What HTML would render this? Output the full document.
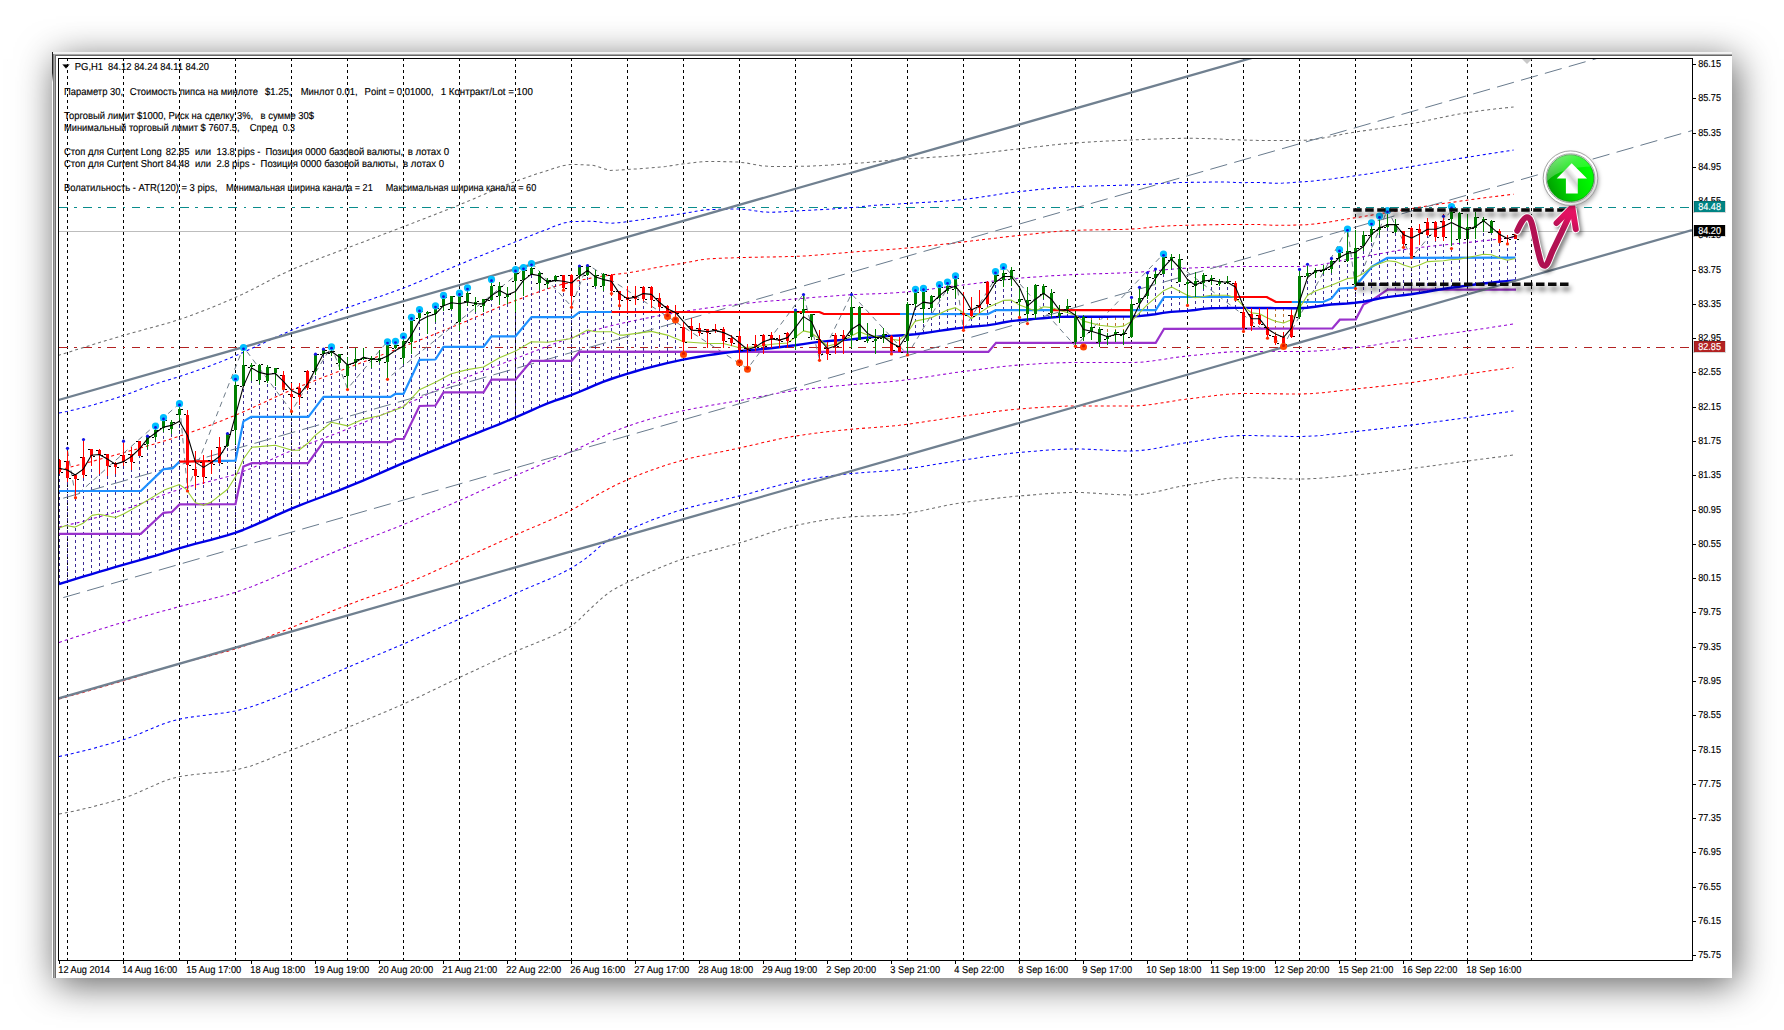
<!DOCTYPE html>
<html><head><meta charset="utf-8"><title>PG,H1</title>
<style>
html,body{margin:0;padding:0;background:#fff;}
body{width:1784px;height:1030px;position:relative;overflow:hidden;font-family:"Liberation Sans",Arial,sans-serif;}
#shadow{position:absolute;left:52px;top:52px;width:1680px;height:926px;background:#fff;box-shadow:4px 6.7px 35.6px 0 rgba(0,0,0,0.632);}
</style></head><body>
<div id="shadow"></div>
<svg width="1784" height="1030" viewBox="0 0 1784 1030" style="position:absolute;left:0;top:0">
<defs>
<clipPath id="plot"><rect x="59" y="59" width="1633" height="901"/></clipPath>
<filter id="sh2" filterUnits="userSpaceOnUse" x="1300" y="180" width="320" height="140"><feGaussianBlur stdDeviation="2.8"/></filter>
<filter id="sh" x="-20%" y="-50%" width="140%" height="220%"><feGaussianBlur stdDeviation="2.2"/></filter>
<linearGradient id="gbtn" x1="0.05" y1="0.85" x2="1" y2="0.45"><stop offset="0" stop-color="#009c00"/><stop offset="0.5" stop-color="#00dc00"/><stop offset="1" stop-color="#00ff00"/></linearGradient>
<linearGradient id="tick" x1="0" y1="0" x2="0" y2="1"><stop offset="0" stop-color="#111" stop-opacity="0.95"/><stop offset="0.7" stop-color="#111" stop-opacity="0.9"/><stop offset="1" stop-color="#111" stop-opacity="0"/></linearGradient>
<linearGradient id="ring" x1="0" y1="0" x2="1" y2="1"><stop offset="0" stop-color="#ffffff"/><stop offset="0.6" stop-color="#ffffff"/><stop offset="1" stop-color="#bdbdbd"/></linearGradient>
<linearGradient id="gloss" x1="0.1" y1="0.1" x2="0.8" y2="0.9"><stop offset="0" stop-color="#ffffff" stop-opacity="0.68"/><stop offset="0.55" stop-color="#ffffff" stop-opacity="0.22"/><stop offset="1" stop-color="#ffffff" stop-opacity="0.04"/></linearGradient>
<linearGradient id="arr" x1="0" y1="0.9" x2="1" y2="0.1"><stop offset="0" stop-color="#fff"/><stop offset="0.36" stop-color="#fff"/><stop offset="0.5" stop-color="#d2d2d2"/><stop offset="0.64" stop-color="#fff"/><stop offset="1" stop-color="#fff"/></linearGradient>
<clipPath id="disc"><circle cx="1570.5" cy="178.2" r="23.3"/></clipPath>
<linearGradient id="sq" gradientUnits="userSpaceOnUse" x1="1545" y1="268" x2="1572" y2="205"><stop offset="0" stop-color="#ae1050"/><stop offset="0.62" stop-color="#b41254"/><stop offset="0.8" stop-color="#e01060"/><stop offset="1" stop-color="#ea1264"/></linearGradient>
</defs>
<rect x="52" y="52" width="1680" height="926" fill="#fff"/>
<g shape-rendering="crispEdges">
<rect x="53" y="53" width="1" height="925" fill="#828282"/>
<rect x="54" y="54" width="1" height="924" fill="#a8a8a8"/>
<rect x="55" y="55" width="1" height="923" fill="#6e6e6e"/>
<rect x="52" y="52" width="1680" height="1" fill="#f4f4f4"/>
<rect x="52" y="52" width="1" height="926" fill="#fafafa"/>
<rect x="53" y="53" width="1679" height="1" fill="#f0f0f0"/>
<rect x="54" y="54" width="1678" height="1" fill="#a5a5a5"/>
<rect x="55" y="55" width="1677" height="1" fill="#686868"/>
<rect x="52" y="52" width="1.2" height="30" fill="url(#tick)"/>
</g>
<g shape-rendering="crispEdges">
<line x1="67.5" y1="58" x2="67.5" y2="960" stroke="#000" stroke-width="1" stroke-dasharray="3 3"/>
<line x1="123.5" y1="58" x2="123.5" y2="960" stroke="#000" stroke-width="1" stroke-dasharray="3 3"/>
<line x1="179.5" y1="58" x2="179.5" y2="960" stroke="#000" stroke-width="1" stroke-dasharray="3 3"/>
<line x1="235.5" y1="58" x2="235.5" y2="960" stroke="#000" stroke-width="1" stroke-dasharray="3 3"/>
<line x1="291.5" y1="58" x2="291.5" y2="960" stroke="#000" stroke-width="1" stroke-dasharray="3 3"/>
<line x1="347.5" y1="58" x2="347.5" y2="960" stroke="#000" stroke-width="1" stroke-dasharray="3 3"/>
<line x1="403.5" y1="58" x2="403.5" y2="960" stroke="#000" stroke-width="1" stroke-dasharray="3 3"/>
<line x1="459.5" y1="58" x2="459.5" y2="960" stroke="#000" stroke-width="1" stroke-dasharray="3 3"/>
<line x1="515.5" y1="58" x2="515.5" y2="960" stroke="#000" stroke-width="1" stroke-dasharray="3 3"/>
<line x1="571.5" y1="58" x2="571.5" y2="960" stroke="#000" stroke-width="1" stroke-dasharray="3 3"/>
<line x1="627.5" y1="58" x2="627.5" y2="960" stroke="#000" stroke-width="1" stroke-dasharray="3 3"/>
<line x1="683.5" y1="58" x2="683.5" y2="960" stroke="#000" stroke-width="1" stroke-dasharray="3 3"/>
<line x1="739.5" y1="58" x2="739.5" y2="960" stroke="#000" stroke-width="1" stroke-dasharray="3 3"/>
<line x1="795.5" y1="58" x2="795.5" y2="960" stroke="#000" stroke-width="1" stroke-dasharray="3 3"/>
<line x1="851.5" y1="58" x2="851.5" y2="960" stroke="#000" stroke-width="1" stroke-dasharray="3 3"/>
<line x1="907.5" y1="58" x2="907.5" y2="960" stroke="#000" stroke-width="1" stroke-dasharray="3 3"/>
<line x1="963.5" y1="58" x2="963.5" y2="960" stroke="#000" stroke-width="1" stroke-dasharray="3 3"/>
<line x1="1019.5" y1="58" x2="1019.5" y2="960" stroke="#000" stroke-width="1" stroke-dasharray="3 3"/>
<line x1="1075.5" y1="58" x2="1075.5" y2="960" stroke="#000" stroke-width="1" stroke-dasharray="3 3"/>
<line x1="1131.5" y1="58" x2="1131.5" y2="960" stroke="#000" stroke-width="1" stroke-dasharray="3 3"/>
<line x1="1187.5" y1="58" x2="1187.5" y2="960" stroke="#000" stroke-width="1" stroke-dasharray="3 3"/>
<line x1="1243.5" y1="58" x2="1243.5" y2="960" stroke="#000" stroke-width="1" stroke-dasharray="3 3"/>
<line x1="1299.5" y1="58" x2="1299.5" y2="960" stroke="#000" stroke-width="1" stroke-dasharray="3 3"/>
<line x1="1355.5" y1="58" x2="1355.5" y2="960" stroke="#000" stroke-width="1" stroke-dasharray="3 3"/>
<line x1="1411.5" y1="58" x2="1411.5" y2="960" stroke="#000" stroke-width="1" stroke-dasharray="3 3"/>
<line x1="1467.5" y1="58" x2="1467.5" y2="960" stroke="#000" stroke-width="1" stroke-dasharray="3 3"/>
<line x1="1531.5" y1="58" x2="1531.5" y2="960" stroke="#000" stroke-width="1" stroke-dasharray="3 3"/>
</g>
<g clip-path="url(#plot)" fill="none" stroke-linejoin="round">
<line x1="59" y1="231.5" x2="1692" y2="231.5" stroke="#bdbdbd" stroke-width="1" shape-rendering="crispEdges"/>
<line x1="59" y1="207.5" x2="1692" y2="207.5" stroke="#0a8c8c" stroke-width="1.3" stroke-dasharray="8.5 6.6 2.9 6.2" shape-rendering="crispEdges"/>
<line x1="59" y1="347.5" x2="1692" y2="347.5" stroke="#b22222" stroke-width="1.3" stroke-dasharray="8.5 6.6 2.9 6.2" shape-rendering="crispEdges"/>
<polyline points="58.0,355.5 66.0,353.0 74.0,350.4 82.0,347.9 90.0,345.5 98.0,343.0 106.0,340.6 114.0,338.2 122.0,335.8 130.0,333.5 138.0,331.3 146.0,329.1 154.0,326.9 162.0,324.7 170.0,322.4 178.0,319.9 186.0,317.2 194.0,314.3 202.0,311.3 210.0,308.2 218.0,304.9 226.0,301.6 234.0,298.1 242.0,294.5 250.0,290.6 258.0,286.5 266.0,282.3 274.0,278.1 282.0,274.1 290.0,270.4 298.0,267.0 306.0,263.7 314.0,260.6 322.0,257.5 330.0,254.5 338.0,251.5 346.0,248.5 354.0,245.4 362.0,242.4 370.0,239.4 378.0,236.4 386.0,233.3 394.0,230.3 402.0,227.2 410.0,224.2 418.0,221.1 426.0,218.0 434.0,214.9 442.0,211.7 450.0,208.6 458.0,205.4 466.0,202.1 474.0,198.7 482.0,195.2 490.0,191.7 498.0,188.3 506.0,185.0 514.0,181.9 522.0,179.0 530.0,176.2 538.0,173.5 546.0,171.1 554.0,168.3 562.0,165.8 570.0,164.5 578.0,164.6 586.0,164.9 594.0,165.4 602.0,168.1 610.0,170.4 618.0,170.1 626.0,169.6 634.0,169.1 642.0,168.6 650.0,168.0 658.0,167.3 666.0,166.4 674.0,165.2 682.0,164.1 690.0,163.1 698.0,162.1 706.0,161.4 714.0,161.4 722.0,161.6 730.0,161.8 738.0,162.1 746.0,162.9 754.0,164.4 762.0,165.9 770.0,166.4 778.0,166.4 786.0,166.4 794.0,166.4 802.0,166.3 810.0,166.1 818.0,165.7 826.0,165.3 834.0,164.8 842.0,164.2 850.0,163.7 858.0,163.2 866.0,162.5 874.0,161.8 882.0,161.1 890.0,160.4 898.0,159.7 906.0,159.0 914.0,158.4 922.0,157.9 930.0,157.4 938.0,156.9 946.0,156.4 954.0,155.8 962.0,155.2 970.0,154.4 978.0,153.5 986.0,152.7 994.0,151.7 1002.0,150.8 1010.0,149.8 1018.0,149.0 1026.0,148.1 1034.0,147.1 1042.0,146.2 1050.0,145.3 1058.0,144.4 1066.0,143.7 1074.0,143.0 1082.0,142.5 1090.0,142.0 1098.0,141.5 1106.0,141.1 1114.0,140.7 1122.0,140.4 1130.0,140.1 1138.0,139.7 1146.0,139.4 1154.0,139.1 1162.0,138.8 1170.0,138.5 1178.0,138.4 1186.0,138.3 1194.0,138.3 1202.0,138.5 1210.0,138.7 1218.0,139.0 1226.0,139.4 1234.0,139.7 1242.0,140.0 1250.0,140.2 1258.0,140.4 1266.0,140.4 1274.0,140.4 1282.0,140.4 1290.0,140.4 1298.0,140.4 1306.0,140.2 1314.0,139.4 1322.0,138.2 1330.0,136.8 1338.0,135.2 1346.0,133.6 1354.0,132.2 1362.0,131.0 1370.0,129.9 1378.0,128.7 1386.0,127.6 1394.0,126.4 1402.0,125.2 1410.0,123.9 1418.0,122.4 1426.0,120.8 1434.0,119.1 1442.0,117.4 1450.0,115.7 1458.0,114.2 1466.0,112.8 1474.0,111.7 1482.0,110.6 1490.0,109.6 1498.0,108.6 1506.0,107.8 1513.6,107.1" stroke="#6e6e6e" stroke-width="1.05" stroke-dasharray="3 3"/>
<polyline points="59.0,814.0 67.0,812.5 75.0,810.9 83.0,809.1 91.0,807.2 99.0,805.1 107.0,803.0 115.0,800.7 123.0,798.3 131.0,795.5 139.0,792.2 147.0,788.6 155.0,785.0 163.0,781.6 171.0,778.7 179.0,776.7 187.0,775.4 195.0,774.4 203.0,773.6 211.0,772.9 219.0,772.2 227.0,771.2 235.0,770.0 243.0,768.2 251.0,765.9 259.0,763.0 267.0,759.9 275.0,756.6 283.0,753.3 291.0,750.2 299.0,747.1 307.0,744.0 315.0,740.8 323.0,737.6 331.0,734.3 339.0,731.0 347.0,727.7 355.0,724.4 363.0,721.1 371.0,717.9 379.0,714.5 387.0,711.2 395.0,707.7 403.0,704.2 411.0,700.6 419.0,696.9 427.0,693.1 435.0,689.2 443.0,685.4 451.0,681.5 459.0,677.7 467.0,674.0 475.0,670.3 483.0,666.5 491.0,662.8 499.0,659.1 507.0,655.4 515.0,651.7 523.0,648.2 531.0,645.0 539.0,641.8 547.0,638.6 555.0,635.0 563.0,631.0 571.0,626.3 579.0,619.8 587.0,611.9 595.0,604.5 603.0,597.2 611.0,591.1 619.0,586.5 627.0,582.6 635.0,578.8 643.0,575.1 651.0,571.5 659.0,568.1 667.0,564.8 675.0,561.7 683.0,558.9 691.0,556.3 699.0,553.9 707.0,551.7 715.0,549.6 723.0,547.6 731.0,545.4 739.0,543.1 747.0,540.7 755.0,538.0 763.0,535.2 771.0,532.5 779.0,529.9 787.0,527.6 795.0,525.6 803.0,524.0 811.0,522.4 819.0,521.0 827.0,519.6 835.0,518.5 843.0,517.5 851.0,516.8 859.0,516.4 867.0,516.1 875.0,515.8 883.0,515.5 891.0,515.1 899.0,514.4 907.0,513.3 915.0,511.9 923.0,510.4 931.0,508.7 939.0,507.0 947.0,505.3 955.0,503.8 963.0,502.6 971.0,501.5 979.0,500.4 987.0,499.4 995.0,498.4 1003.0,497.6 1011.0,496.7 1019.0,496.0 1027.0,495.4 1035.0,494.7 1043.0,494.0 1051.0,493.4 1059.0,493.0 1067.0,492.6 1075.0,492.5 1083.0,492.6 1091.0,493.0 1099.0,493.5 1107.0,494.0 1115.0,494.5 1123.0,494.8 1131.0,495.0 1139.0,494.6 1147.0,493.6 1155.0,492.1 1163.0,490.3 1171.0,488.3 1179.0,486.6 1187.0,485.1 1195.0,483.8 1203.0,482.4 1211.0,480.9 1219.0,479.6 1227.0,478.5 1235.0,477.8 1243.0,477.5 1251.0,477.6 1259.0,477.8 1267.0,478.1 1275.0,478.4 1283.0,478.7 1291.0,478.9 1299.0,479.0 1307.0,478.9 1315.0,478.5 1323.0,478.0 1331.0,477.3 1339.0,476.6 1347.0,475.8 1355.0,475.0 1363.0,474.3 1371.0,473.5 1379.0,472.5 1387.0,471.6 1395.0,470.6 1403.0,469.6 1411.0,468.6 1419.0,467.5 1427.0,466.5 1435.0,465.4 1443.0,464.3 1451.0,463.2 1459.0,462.1 1467.0,461.1 1475.0,460.0 1483.0,459.0 1491.0,457.9 1499.0,456.9 1507.0,455.8 1513.5,455.0" stroke="#6e6e6e" stroke-width="1.05" stroke-dasharray="3 3"/>
<polyline points="59.0,413.0 67.0,411.4 75.0,409.6 83.0,407.6 91.0,405.5 99.0,403.2 107.0,400.8 115.0,398.4 123.0,395.8 131.0,392.9 139.0,389.8 147.0,386.7 155.0,384.0 163.0,381.5 171.0,379.2 179.0,376.7 187.0,374.0 195.0,371.3 203.0,368.5 211.0,365.5 219.0,362.5 227.0,359.3 235.0,355.9 243.0,352.4 251.0,348.8 259.0,345.1 267.0,341.3 275.0,337.6 283.0,334.0 291.0,330.5 299.0,327.1 307.0,323.7 315.0,320.4 323.0,317.2 331.0,314.0 339.0,310.9 347.0,307.8 355.0,304.9 363.0,302.1 371.0,299.4 379.0,296.7 387.0,294.0 395.0,291.2 403.0,288.3 411.0,285.1 419.0,281.8 427.0,278.4 435.0,274.9 443.0,271.5 451.0,268.0 459.0,264.7 467.0,261.4 475.0,258.1 483.0,254.9 491.0,251.7 499.0,248.4 507.0,245.2 515.0,242.0 523.0,238.8 531.0,235.5 539.0,232.4 547.0,229.4 555.0,226.0 563.0,223.1 571.0,221.6 579.0,221.4 587.0,221.3 595.0,221.4 603.0,222.5 611.0,223.3 619.0,222.7 627.0,221.7 635.0,220.6 643.0,219.5 651.0,218.2 659.0,217.1 667.0,215.9 675.0,214.8 683.0,213.6 691.0,212.2 699.0,210.7 707.0,209.7 715.0,209.4 723.0,209.2 731.0,209.1 739.0,209.0 747.0,209.5 755.0,210.8 763.0,211.9 771.0,212.3 779.0,212.0 787.0,211.5 795.0,211.0 803.0,210.6 811.0,210.2 819.0,209.7 827.0,209.3 835.0,208.8 843.0,208.2 851.0,207.6 859.0,206.9 867.0,206.0 875.0,205.3 883.0,204.8 891.0,204.4 899.0,203.9 907.0,203.4 915.0,202.9 923.0,202.5 931.0,202.0 939.0,201.5 947.0,200.9 955.0,200.3 963.0,199.5 971.0,198.5 979.0,197.4 987.0,196.2 995.0,195.0 1003.0,193.7 1011.0,192.6 1019.0,191.6 1027.0,190.8 1035.0,189.9 1043.0,189.1 1051.0,188.3 1059.0,187.6 1067.0,187.1 1075.0,186.6 1083.0,186.3 1091.0,186.0 1099.0,185.8 1107.0,185.6 1115.0,185.4 1123.0,185.2 1131.0,184.9 1139.0,184.6 1147.0,184.2 1155.0,183.8 1163.0,183.3 1171.0,182.9 1179.0,182.6 1187.0,182.4 1195.0,182.3 1203.0,182.2 1211.0,182.1 1219.0,182.0 1227.0,182.1 1235.0,182.4 1243.0,182.7 1251.0,182.5 1259.0,182.4 1267.0,182.9 1275.0,183.3 1283.0,183.1 1291.0,182.7 1299.0,182.1 1307.0,181.5 1315.0,180.8 1323.0,179.9 1331.0,179.0 1339.0,177.9 1347.0,176.9 1355.0,175.8 1363.0,174.6 1371.0,173.4 1379.0,172.1 1387.0,170.7 1395.0,169.3 1403.0,167.9 1411.0,166.6 1419.0,165.3 1427.0,163.9 1435.0,162.6 1443.0,161.2 1451.0,159.9 1459.0,158.6 1467.0,157.3 1475.0,156.0 1483.0,154.8 1491.0,153.5 1499.0,152.3 1507.0,151.1 1513.6,150.1" stroke="#0000ff" stroke-width="1.05" stroke-dasharray="3 3"/>
<polyline points="59.0,756.5 67.0,754.8 75.0,753.0 83.0,751.0 91.0,749.0 99.0,746.8 107.0,744.6 115.0,742.3 123.0,739.8 131.0,737.1 139.0,734.0 147.0,730.6 155.0,727.2 163.0,724.1 171.0,721.3 179.0,719.2 187.0,717.7 195.0,716.5 203.0,715.5 211.0,714.6 219.0,713.6 227.0,712.4 235.0,711.0 243.0,709.1 251.0,706.8 259.0,704.1 267.0,701.1 275.0,698.0 283.0,694.8 291.0,691.7 299.0,688.5 307.0,685.2 315.0,681.8 323.0,678.2 331.0,674.7 339.0,671.2 347.0,667.7 355.0,664.3 363.0,661.0 371.0,657.7 379.0,654.3 387.0,651.0 395.0,647.6 403.0,644.2 411.0,640.7 419.0,637.2 427.0,633.6 435.0,630.0 443.0,626.4 451.0,622.8 459.0,619.2 467.0,615.6 475.0,611.9 483.0,608.3 491.0,604.6 499.0,601.0 507.0,597.3 515.0,593.7 523.0,590.1 531.0,586.7 539.0,583.4 547.0,580.0 555.0,576.4 563.0,572.5 571.0,568.3 579.0,563.3 587.0,557.6 595.0,550.8 603.0,543.8 611.0,538.4 619.0,534.2 627.0,530.5 635.0,527.0 643.0,523.7 651.0,520.4 659.0,517.4 667.0,514.5 675.0,511.8 683.0,509.3 691.0,507.1 699.0,505.1 707.0,503.3 715.0,501.5 723.0,499.8 731.0,498.0 739.0,496.1 747.0,494.1 755.0,491.9 763.0,489.6 771.0,487.4 779.0,485.2 787.0,483.3 795.0,481.6 803.0,480.2 811.0,478.8 819.0,477.6 827.0,476.4 835.0,475.3 843.0,474.4 851.0,473.6 859.0,472.9 867.0,472.3 875.0,471.8 883.0,471.3 891.0,470.6 899.0,469.8 907.0,468.8 915.0,467.6 923.0,466.4 931.0,465.1 939.0,463.8 947.0,462.5 955.0,461.2 963.0,460.1 971.0,458.9 979.0,457.7 987.0,456.5 995.0,455.4 1003.0,454.3 1011.0,453.3 1019.0,452.5 1027.0,451.8 1035.0,451.2 1043.0,450.5 1051.0,449.9 1059.0,449.4 1067.0,449.1 1075.0,449.0 1083.0,449.1 1091.0,449.4 1099.0,449.8 1107.0,450.2 1115.0,450.6 1123.0,450.9 1131.0,451.0 1139.0,450.7 1147.0,449.8 1155.0,448.6 1163.0,447.0 1171.0,445.4 1179.0,443.9 1187.0,442.6 1195.0,441.4 1203.0,440.1 1211.0,438.8 1219.0,437.5 1227.0,436.5 1235.0,435.8 1243.0,435.5 1251.0,435.5 1259.0,435.7 1267.0,435.9 1275.0,436.1 1283.0,436.3 1291.0,436.4 1299.0,436.5 1307.0,436.3 1315.0,435.9 1323.0,435.2 1331.0,434.3 1339.0,433.4 1347.0,432.4 1355.0,431.6 1363.0,430.7 1371.0,429.8 1379.0,428.9 1387.0,428.0 1395.0,427.0 1403.0,426.1 1411.0,425.1 1419.0,424.1 1427.0,423.0 1435.0,421.9 1443.0,420.9 1451.0,419.8 1459.0,418.7 1467.0,417.6 1475.0,416.5 1483.0,415.3 1491.0,414.2 1499.0,413.1 1507.0,411.9 1513.5,411.0" stroke="#0000ff" stroke-width="1.05" stroke-dasharray="3 3"/>
<polyline points="59.0,470.0 67.0,468.0 75.0,465.9 83.0,463.8 91.0,461.7 99.0,459.5 107.0,457.3 115.0,455.1 123.0,452.9 131.0,450.6 139.0,448.4 147.0,446.1 155.0,443.8 163.0,441.4 171.0,438.9 179.0,436.3 187.0,433.6 195.0,430.8 203.0,427.9 211.0,424.9 219.0,421.8 227.0,418.6 235.0,415.4 243.0,412.0 251.0,408.4 259.0,404.7 267.0,401.0 275.0,397.3 283.0,393.7 291.0,390.2 299.0,386.9 307.0,383.7 315.0,380.5 323.0,377.4 331.0,374.4 339.0,371.3 347.0,368.2 355.0,365.1 363.0,362.1 371.0,359.0 379.0,356.0 387.0,352.9 395.0,349.8 403.0,346.7 411.0,343.6 419.0,340.4 427.0,337.2 435.0,334.0 443.0,330.7 451.0,327.5 459.0,324.2 467.0,320.9 475.0,317.4 483.0,314.0 491.0,310.5 499.0,307.1 507.0,303.8 515.0,300.7 523.0,297.7 531.0,294.6 539.0,291.7 547.0,288.9 555.0,286.4 563.0,284.1 571.0,282.2 579.0,280.5 587.0,278.9 595.0,277.4 603.0,276.1 611.0,274.9 619.0,273.9 627.0,272.9 635.0,271.7 643.0,270.1 651.0,268.6 659.0,267.1 667.0,265.8 675.0,264.5 683.0,263.2 691.0,261.7 699.0,260.1 707.0,259.0 715.0,258.5 723.0,258.1 731.0,257.9 739.0,257.6 747.0,257.4 755.0,257.2 763.0,257.1 771.0,257.0 779.0,256.8 787.0,256.6 795.0,256.4 803.0,256.1 811.0,255.6 819.0,255.0 827.0,254.3 835.0,253.6 843.0,252.9 851.0,252.2 859.0,251.6 867.0,251.1 875.0,250.5 883.0,249.9 891.0,249.3 899.0,248.7 907.0,248.0 915.0,247.3 923.0,246.5 931.0,245.6 939.0,244.7 947.0,243.8 955.0,242.9 963.0,242.0 971.0,241.1 979.0,240.1 987.0,239.1 995.0,238.2 1003.0,237.2 1011.0,236.3 1019.0,235.4 1027.0,234.6 1035.0,233.7 1043.0,232.8 1051.0,232.0 1059.0,231.3 1067.0,230.7 1075.0,230.3 1083.0,230.1 1091.0,229.9 1099.0,229.8 1107.0,229.7 1115.0,229.5 1123.0,229.4 1131.0,229.1 1139.0,228.6 1147.0,227.6 1155.0,226.8 1163.0,226.2 1171.0,225.8 1179.0,225.5 1187.0,225.3 1195.0,225.1 1203.0,224.9 1211.0,224.8 1219.0,224.6 1227.0,224.5 1235.0,224.4 1243.0,224.4 1251.0,224.4 1259.0,224.5 1267.0,225.0 1275.0,225.3 1283.0,225.3 1291.0,225.2 1299.0,225.0 1307.0,224.7 1315.0,223.9 1323.0,222.9 1331.0,221.7 1339.0,220.4 1347.0,219.0 1355.0,217.8 1363.0,216.6 1371.0,215.3 1379.0,213.9 1387.0,212.6 1395.0,211.2 1403.0,209.9 1411.0,208.6 1419.0,207.3 1427.0,206.1 1435.0,204.9 1443.0,203.6 1451.0,202.5 1459.0,201.3 1467.0,200.2 1475.0,199.1 1483.0,198.0 1491.0,197.0 1499.0,196.0 1507.0,195.0 1513.6,194.2" stroke="#ff0000" stroke-width="1.05" stroke-dasharray="3 3"/>
<polyline points="59.0,699.0 67.0,696.8 75.0,694.6 83.0,692.4 91.0,690.1 99.0,687.8 107.0,685.5 115.0,683.2 123.0,680.9 131.0,678.5 139.0,676.0 147.0,673.5 155.0,671.0 163.0,668.5 171.0,666.1 179.0,663.8 187.0,661.6 195.0,659.5 203.0,657.6 211.0,655.6 219.0,653.5 227.0,651.4 235.0,649.0 243.0,646.4 251.0,643.5 259.0,640.5 267.0,637.3 275.0,634.1 283.0,630.9 291.0,627.7 299.0,624.5 307.0,621.3 315.0,618.0 323.0,614.8 331.0,611.5 339.0,608.3 347.0,605.2 355.0,602.2 363.0,599.3 371.0,596.5 379.0,593.6 387.0,590.8 395.0,587.8 403.0,584.8 411.0,581.5 419.0,578.1 427.0,574.7 435.0,571.1 443.0,567.5 451.0,563.9 459.0,560.4 467.0,556.8 475.0,553.2 483.0,549.6 491.0,546.0 499.0,542.4 507.0,538.8 515.0,535.2 523.0,531.7 531.0,528.2 539.0,524.9 547.0,521.4 555.0,517.9 563.0,514.2 571.0,510.3 579.0,505.8 587.0,501.0 595.0,496.2 603.0,491.8 611.0,487.5 619.0,483.5 627.0,479.8 635.0,476.5 643.0,473.3 651.0,470.3 659.0,467.5 667.0,464.8 675.0,462.4 683.0,460.1 691.0,458.1 699.0,456.3 707.0,454.6 715.0,452.9 723.0,451.4 731.0,449.8 739.0,448.1 747.0,446.3 755.0,444.5 763.0,442.6 771.0,440.8 779.0,439.1 787.0,437.5 795.0,436.1 803.0,434.9 811.0,433.8 819.0,432.7 827.0,431.8 835.0,430.9 843.0,430.0 851.0,429.3 859.0,428.6 867.0,428.0 875.0,427.4 883.0,426.8 891.0,426.1 899.0,425.3 907.0,424.3 915.0,423.2 923.0,422.0 931.0,420.8 939.0,419.6 947.0,418.3 955.0,417.2 963.0,416.1 971.0,415.0 979.0,413.9 987.0,412.7 995.0,411.6 1003.0,410.6 1011.0,409.7 1019.0,409.0 1027.0,408.4 1035.0,407.8 1043.0,407.3 1051.0,406.8 1059.0,406.4 1067.0,406.1 1075.0,406.0 1083.0,406.0 1091.0,406.0 1099.0,406.0 1107.0,406.0 1115.0,406.0 1123.0,406.0 1131.0,406.0 1139.0,405.8 1147.0,405.0 1155.0,404.0 1163.0,402.7 1171.0,401.4 1179.0,400.1 1187.0,399.1 1195.0,398.1 1203.0,397.1 1211.0,396.0 1219.0,395.1 1227.0,394.3 1235.0,393.7 1243.0,393.5 1251.0,393.5 1259.0,393.6 1267.0,393.7 1275.0,393.8 1283.0,393.9 1291.0,394.0 1299.0,394.0 1307.0,393.8 1315.0,393.4 1323.0,392.7 1331.0,391.8 1339.0,390.9 1347.0,389.9 1355.0,389.1 1363.0,388.2 1371.0,387.4 1379.0,386.5 1387.0,385.6 1395.0,384.6 1403.0,383.6 1411.0,382.6 1419.0,381.5 1427.0,380.3 1435.0,379.1 1443.0,377.8 1451.0,376.5 1459.0,375.3 1467.0,374.1 1475.0,372.9 1483.0,371.8 1491.0,370.6 1499.0,369.5 1507.0,368.4 1513.5,367.5" stroke="#ff0000" stroke-width="1.05" stroke-dasharray="3 3"/>
<polyline points="59.0,527.0 67.0,525.2 75.0,523.3 83.0,521.3 91.0,519.1 99.0,516.9 107.0,514.6 115.0,512.3 123.0,509.8 131.0,507.2 139.0,504.3 147.0,501.2 155.0,498.1 163.0,495.0 171.0,492.1 179.0,489.5 187.0,487.1 195.0,485.0 203.0,483.0 211.0,481.0 219.0,479.0 227.0,476.8 235.0,474.4 243.0,471.5 251.0,468.4 259.0,464.9 267.0,461.4 275.0,457.8 283.0,454.2 291.0,450.8 299.0,447.7 307.0,444.6 315.0,441.5 323.0,438.5 331.0,435.4 339.0,432.4 347.0,429.2 355.0,426.0 363.0,422.7 371.0,419.4 379.0,416.0 387.0,412.6 395.0,409.2 403.0,405.7 411.0,402.1 419.0,398.4 427.0,394.6 435.0,390.8 443.0,387.2 451.0,383.8 459.0,380.5 467.0,377.3 475.0,374.1 483.0,371.0 491.0,368.0 499.0,364.9 507.0,361.8 515.0,358.8 523.0,355.7 531.0,352.6 539.0,349.5 547.0,346.4 555.0,343.4 563.0,340.5 571.0,337.8 579.0,335.2 587.0,332.6 595.0,330.1 603.0,327.8 611.0,325.8 619.0,323.9 627.0,322.1 635.0,320.4 643.0,318.8 651.0,317.2 659.0,315.7 667.0,314.3 675.0,313.0 683.0,311.7 691.0,310.4 699.0,309.2 707.0,308.1 715.0,307.0 723.0,305.9 731.0,305.0 739.0,304.1 747.0,303.2 755.0,302.4 763.0,301.7 771.0,301.0 779.0,300.4 787.0,299.7 795.0,299.0 803.0,298.4 811.0,297.7 819.0,297.0 827.0,296.4 835.0,295.8 843.0,295.2 851.0,294.7 859.0,294.4 867.0,294.0 875.0,293.8 883.0,293.5 891.0,293.1 899.0,292.5 907.0,291.8 915.0,291.0 923.0,290.1 931.0,289.1 939.0,288.0 947.0,287.0 955.0,285.9 963.0,285.0 971.0,284.0 979.0,283.0 987.0,281.9 995.0,280.9 1003.0,279.9 1011.0,279.0 1019.0,278.2 1027.0,277.6 1035.0,277.0 1043.0,276.4 1051.0,275.8 1059.0,275.4 1067.0,274.9 1075.0,274.5 1083.0,274.2 1091.0,273.9 1099.0,273.7 1107.0,273.5 1115.0,273.2 1123.0,273.0 1131.0,272.6 1139.0,272.1 1147.0,271.5 1155.0,270.8 1163.0,270.0 1171.0,269.2 1179.0,268.6 1187.0,268.1 1195.0,267.8 1203.0,267.5 1211.0,267.2 1219.0,266.9 1227.0,266.7 1235.0,266.6 1243.0,266.5 1251.0,266.5 1259.0,266.5 1267.0,266.5 1275.0,266.5 1283.0,266.5 1291.0,266.5 1299.0,266.5 1307.0,266.2 1315.0,265.4 1323.0,264.2 1331.0,262.7 1339.0,261.1 1347.0,259.5 1355.0,258.1 1363.0,256.7 1371.0,255.3 1379.0,253.9 1387.0,252.4 1395.0,251.0 1403.0,249.7 1411.0,248.6 1419.0,247.6 1427.0,246.6 1435.0,245.8 1443.0,245.0 1451.0,244.2 1459.0,243.4 1467.0,242.6 1475.0,241.7 1483.0,240.8 1491.0,240.0 1499.0,239.1 1507.0,238.2 1513.5,237.5" stroke="#9400d3" stroke-width="1.05" stroke-dasharray="3 3"/>
<polyline points="59.0,642.5 67.0,639.8 75.0,637.2 83.0,634.7 91.0,632.1 99.0,629.6 107.0,627.2 115.0,624.7 123.0,622.4 131.0,620.0 139.0,617.7 147.0,615.5 155.0,613.3 163.0,611.1 171.0,608.9 179.0,606.8 187.0,604.7 195.0,602.8 203.0,600.9 211.0,599.0 219.0,597.0 227.0,594.9 235.0,592.5 243.0,589.8 251.0,586.9 259.0,583.7 267.0,580.4 275.0,577.0 283.0,573.5 291.0,570.2 299.0,566.9 307.0,563.5 315.0,560.1 323.0,556.7 331.0,553.4 339.0,550.0 347.0,546.7 355.0,543.5 363.0,540.3 371.0,537.2 379.0,534.2 387.0,531.0 395.0,527.9 403.0,524.7 411.0,521.4 419.0,518.0 427.0,514.6 435.0,511.1 443.0,507.7 451.0,504.2 459.0,500.7 467.0,497.2 475.0,493.6 483.0,490.0 491.0,486.4 499.0,482.9 507.0,479.3 515.0,475.8 523.0,472.3 531.0,468.9 539.0,465.5 547.0,462.1 555.0,458.7 563.0,455.2 571.0,451.7 579.0,448.1 587.0,444.3 595.0,440.4 603.0,436.5 611.0,432.8 619.0,429.4 627.0,426.4 635.0,423.7 643.0,421.2 651.0,418.8 659.0,416.6 667.0,414.6 675.0,412.6 683.0,410.8 691.0,409.1 699.0,407.6 707.0,406.1 715.0,404.7 723.0,403.4 731.0,402.0 739.0,400.6 747.0,399.1 755.0,397.6 763.0,396.0 771.0,394.5 779.0,393.1 787.0,391.7 795.0,390.6 803.0,389.6 811.0,388.6 819.0,387.7 827.0,386.9 835.0,386.1 843.0,385.4 851.0,384.7 859.0,384.0 867.0,383.4 875.0,382.9 883.0,382.3 891.0,381.6 899.0,380.8 907.0,379.8 915.0,378.7 923.0,377.5 931.0,376.3 939.0,375.0 947.0,373.8 955.0,372.6 963.0,371.6 971.0,370.5 979.0,369.5 987.0,368.4 995.0,367.4 1003.0,366.5 1011.0,365.7 1019.0,365.0 1027.0,364.5 1035.0,364.0 1043.0,363.5 1051.0,363.1 1059.0,362.8 1067.0,362.6 1075.0,362.5 1083.0,362.5 1091.0,362.5 1099.0,362.5 1107.0,362.5 1115.0,362.5 1123.0,362.5 1131.0,362.5 1139.0,362.3 1147.0,361.6 1155.0,360.6 1163.0,359.4 1171.0,358.1 1179.0,357.0 1187.0,356.0 1195.0,355.2 1203.0,354.4 1211.0,353.5 1219.0,352.8 1227.0,352.1 1235.0,351.7 1243.0,351.5 1251.0,351.5 1259.0,351.5 1267.0,351.5 1275.0,351.5 1283.0,351.5 1291.0,351.5 1299.0,351.5 1307.0,351.4 1315.0,351.1 1323.0,350.5 1331.0,349.9 1339.0,349.1 1347.0,348.3 1355.0,347.5 1363.0,346.7 1371.0,345.6 1379.0,344.3 1387.0,343.0 1395.0,341.7 1403.0,340.3 1411.0,339.1 1419.0,337.9 1427.0,336.8 1435.0,335.6 1443.0,334.5 1451.0,333.4 1459.0,332.2 1467.0,331.1 1475.0,329.9 1483.0,328.7 1491.0,327.5 1499.0,326.2 1507.0,325.0 1513.5,324.0" stroke="#9400d3" stroke-width="1.05" stroke-dasharray="3 3"/>
<g stroke-width="1" stroke-dasharray="3 3" stroke-opacity="0.92" shape-rendering="crispEdges"><line x1="59.5" y1="583.8" x2="59.5" y2="468.3" stroke="#2b1a8a"/><line x1="67.5" y1="581.4" x2="67.5" y2="470.1" stroke="#2b1a8a"/><line x1="75.5" y1="579.0" x2="75.5" y2="474.8" stroke="#2b1a8a"/><line x1="83.5" y1="576.6" x2="83.5" y2="468.8" stroke="#2b1a8a"/><line x1="91.5" y1="574.2" x2="91.5" y2="455.3" stroke="#2b1a8a"/><line x1="99.5" y1="571.8" x2="99.5" y2="454.6" stroke="#2b1a8a"/><line x1="107.5" y1="569.4" x2="107.5" y2="459.1" stroke="#2b1a8a"/><line x1="115.5" y1="567.1" x2="115.5" y2="464.0" stroke="#2b1a8a"/><line x1="123.5" y1="564.7" x2="123.5" y2="461.5" stroke="#2b1a8a"/><line x1="131.5" y1="562.4" x2="131.5" y2="456.4" stroke="#2b1a8a"/><line x1="139.5" y1="560.2" x2="139.5" y2="448.9" stroke="#2b1a8a"/><line x1="147.5" y1="557.9" x2="147.5" y2="438.9" stroke="#2b1a8a"/><line x1="155.5" y1="555.6" x2="155.5" y2="432.9" stroke="#2b1a8a"/><line x1="163.5" y1="553.2" x2="163.5" y2="427.1" stroke="#2b1a8a"/><line x1="171.5" y1="550.7" x2="171.5" y2="425.4" stroke="#2b1a8a"/><line x1="179.5" y1="548.2" x2="179.5" y2="421.2" stroke="#2b1a8a"/><line x1="187.5" y1="545.9" x2="187.5" y2="435.4" stroke="#2b1a8a"/><line x1="195.5" y1="543.8" x2="195.5" y2="462.4" stroke="#2b1a8a"/><line x1="203.5" y1="541.7" x2="203.5" y2="467.4" stroke="#2b1a8a"/><line x1="211.5" y1="539.7" x2="211.5" y2="462.3" stroke="#2b1a8a"/><line x1="219.5" y1="537.5" x2="219.5" y2="456.5" stroke="#2b1a8a"/><line x1="227.5" y1="535.2" x2="227.5" y2="444.0" stroke="#2b1a8a"/><line x1="235.5" y1="532.7" x2="235.5" y2="415.5" stroke="#2b1a8a"/><line x1="243.5" y1="529.8" x2="243.5" y2="386.3" stroke="#2b1a8a"/><line x1="251.5" y1="526.5" x2="251.5" y2="367.9" stroke="#2b1a8a"/><line x1="259.5" y1="523.0" x2="259.5" y2="372.4" stroke="#2b1a8a"/><line x1="267.5" y1="519.3" x2="267.5" y2="374.4" stroke="#2b1a8a"/><line x1="275.5" y1="515.6" x2="275.5" y2="373.6" stroke="#2b1a8a"/><line x1="283.5" y1="512.0" x2="283.5" y2="381.5" stroke="#2b1a8a"/><line x1="291.5" y1="508.6" x2="291.5" y2="390.4" stroke="#2b1a8a"/><line x1="299.5" y1="505.4" x2="299.5" y2="394.5" stroke="#2b1a8a"/><line x1="307.5" y1="502.3" x2="307.5" y2="384.2" stroke="#2b1a8a"/><line x1="315.5" y1="499.3" x2="315.5" y2="369.0" stroke="#2b1a8a"/><line x1="323.5" y1="496.3" x2="323.5" y2="353.8" stroke="#2b1a8a"/><line x1="331.5" y1="493.3" x2="331.5" y2="351.5" stroke="#2b1a8a"/><line x1="339.5" y1="490.2" x2="339.5" y2="357.2" stroke="#2b1a8a"/><line x1="347.5" y1="487.0" x2="347.5" y2="365.0" stroke="#2b1a8a"/><line x1="355.5" y1="483.7" x2="355.5" y2="362.2" stroke="#2b1a8a"/><line x1="363.5" y1="480.3" x2="363.5" y2="357.2" stroke="#2b1a8a"/><line x1="371.5" y1="476.9" x2="371.5" y2="359.2" stroke="#2b1a8a"/><line x1="379.5" y1="473.4" x2="379.5" y2="359.4" stroke="#2b1a8a"/><line x1="387.5" y1="469.9" x2="387.5" y2="356.0" stroke="#2b1a8a"/><line x1="395.5" y1="466.4" x2="395.5" y2="350.4" stroke="#2b1a8a"/><line x1="403.5" y1="463.0" x2="403.5" y2="345.9" stroke="#2b1a8a"/><line x1="411.5" y1="459.7" x2="411.5" y2="334.9" stroke="#2b1a8a"/><line x1="419.5" y1="456.3" x2="419.5" y2="320.8" stroke="#2b1a8a"/><line x1="427.5" y1="453.0" x2="427.5" y2="316.6" stroke="#2b1a8a"/><line x1="435.5" y1="449.8" x2="435.5" y2="314.0" stroke="#2b1a8a"/><line x1="443.5" y1="446.5" x2="443.5" y2="305.7" stroke="#2b1a8a"/><line x1="451.5" y1="443.3" x2="451.5" y2="302.8" stroke="#2b1a8a"/><line x1="459.5" y1="440.0" x2="459.5" y2="303.6" stroke="#2b1a8a"/><line x1="467.5" y1="436.8" x2="467.5" y2="302.0" stroke="#2b1a8a"/><line x1="475.5" y1="433.6" x2="475.5" y2="303.5" stroke="#2b1a8a"/><line x1="483.5" y1="430.4" x2="483.5" y2="304.0" stroke="#2b1a8a"/><line x1="491.5" y1="427.3" x2="491.5" y2="295.5" stroke="#2b1a8a"/><line x1="499.5" y1="424.1" x2="499.5" y2="290.5" stroke="#2b1a8a"/><line x1="507.5" y1="420.8" x2="507.5" y2="294.7" stroke="#2b1a8a"/><line x1="515.5" y1="417.5" x2="515.5" y2="291.3" stroke="#2b1a8a"/><line x1="523.5" y1="414.0" x2="523.5" y2="280.5" stroke="#2b1a8a"/><line x1="531.5" y1="410.4" x2="531.5" y2="274.1" stroke="#2b1a8a"/><line x1="539.5" y1="406.8" x2="539.5" y2="275.7" stroke="#2b1a8a"/><line x1="547.5" y1="403.4" x2="547.5" y2="282.1" stroke="#2b1a8a"/><line x1="555.5" y1="400.5" x2="555.5" y2="280.4" stroke="#2b1a8a"/><line x1="563.5" y1="397.8" x2="563.5" y2="281.3" stroke="#2b1a8a"/><line x1="571.5" y1="395.0" x2="571.5" y2="282.9" stroke="#2b1a8a"/><line x1="579.5" y1="391.8" x2="579.5" y2="276.3" stroke="#2b1a8a"/><line x1="587.5" y1="388.4" x2="587.5" y2="270.4" stroke="#2b1a8a"/><line x1="595.5" y1="385.0" x2="595.5" y2="276.9" stroke="#2b1a8a"/><line x1="603.5" y1="381.7" x2="603.5" y2="279.6" stroke="#2b1a8a"/><line x1="611.5" y1="378.8" x2="611.5" y2="281.5" stroke="#2b1a8a"/><line x1="619.5" y1="376.2" x2="619.5" y2="293.2" stroke="#2b1a8a"/><line x1="627.5" y1="373.7" x2="627.5" y2="298.6" stroke="#2b1a8a"/><line x1="635.5" y1="371.4" x2="635.5" y2="297.1" stroke="#2b1a8a"/><line x1="643.5" y1="369.1" x2="643.5" y2="293.6" stroke="#2b1a8a"/><line x1="651.5" y1="367.0" x2="651.5" y2="294.5" stroke="#2b1a8a"/><line x1="659.5" y1="365.0" x2="659.5" y2="302.5" stroke="#2b1a8a"/><line x1="667.5" y1="363.0" x2="667.5" y2="308.8" stroke="#2b1a8a"/><line x1="675.5" y1="361.2" x2="675.5" y2="312.5" stroke="#2b1a8a"/><line x1="915.5" y1="334.1" x2="915.5" y2="307.4" stroke="#2b1a8a"/><line x1="923.5" y1="333.1" x2="923.5" y2="302.1" stroke="#2b1a8a"/><line x1="931.5" y1="332.0" x2="931.5" y2="303.3" stroke="#2b1a8a"/><line x1="939.5" y1="330.9" x2="939.5" y2="295.7" stroke="#2b1a8a"/><line x1="947.5" y1="329.7" x2="947.5" y2="289.1" stroke="#2b1a8a"/><line x1="955.5" y1="328.5" x2="955.5" y2="286.4" stroke="#2b1a8a"/><line x1="963.5" y1="327.5" x2="963.5" y2="295.9" stroke="#2b1a8a"/><line x1="971.5" y1="326.8" x2="971.5" y2="310.1" stroke="#2b1a8a"/><line x1="979.5" y1="326.1" x2="979.5" y2="305.9" stroke="#2b1a8a"/><line x1="987.5" y1="325.3" x2="987.5" y2="295.9" stroke="#2b1a8a"/><line x1="995.5" y1="324.0" x2="995.5" y2="282.3" stroke="#2b1a8a"/><line x1="1003.5" y1="322.4" x2="1003.5" y2="276.5" stroke="#2b1a8a"/><line x1="1011.5" y1="321.1" x2="1011.5" y2="276.6" stroke="#2b1a8a"/><line x1="1019.5" y1="320.2" x2="1019.5" y2="287.5" stroke="#2b1a8a"/><line x1="1027.5" y1="319.5" x2="1027.5" y2="305.8" stroke="#2b1a8a"/><line x1="1035.5" y1="318.9" x2="1035.5" y2="299.2" stroke="#2b1a8a"/><line x1="1043.5" y1="318.2" x2="1043.5" y2="293.3" stroke="#2b1a8a"/><line x1="1051.5" y1="317.4" x2="1051.5" y2="299.3" stroke="#2b1a8a"/><line x1="1059.5" y1="316.9" x2="1059.5" y2="310.1" stroke="#2b1a8a"/><line x1="1067.5" y1="316.8" x2="1067.5" y2="310.1" stroke="#2b1a8a"/><line x1="1083.5" y1="316.7" x2="1083.5" y2="329.4" stroke="#b5651d"/><line x1="1091.5" y1="316.7" x2="1091.5" y2="331.2" stroke="#b5651d"/><line x1="1099.5" y1="316.7" x2="1099.5" y2="333.7" stroke="#b5651d"/><line x1="1107.5" y1="316.7" x2="1107.5" y2="336.7" stroke="#b5651d"/><line x1="1115.5" y1="316.6" x2="1115.5" y2="334.5" stroke="#b5651d"/><line x1="1123.5" y1="316.6" x2="1123.5" y2="334.5" stroke="#b5651d"/><line x1="1131.5" y1="316.5" x2="1131.5" y2="321.3" stroke="#b5651d"/><line x1="1139.5" y1="316.0" x2="1139.5" y2="304.3" stroke="#2b1a8a"/><line x1="1147.5" y1="315.2" x2="1147.5" y2="291.8" stroke="#2b1a8a"/><line x1="1155.5" y1="314.1" x2="1155.5" y2="278.5" stroke="#2b1a8a"/><line x1="1163.5" y1="312.8" x2="1163.5" y2="267.4" stroke="#2b1a8a"/><line x1="1171.5" y1="311.8" x2="1171.5" y2="259.3" stroke="#2b1a8a"/><line x1="1179.5" y1="311.3" x2="1179.5" y2="267.9" stroke="#2b1a8a"/><line x1="1187.5" y1="310.9" x2="1187.5" y2="279.4" stroke="#2b1a8a"/><line x1="1195.5" y1="309.9" x2="1195.5" y2="285.0" stroke="#2b1a8a"/><line x1="1203.5" y1="308.8" x2="1203.5" y2="281.0" stroke="#2b1a8a"/><line x1="1211.5" y1="308.2" x2="1211.5" y2="280.2" stroke="#2b1a8a"/><line x1="1219.5" y1="308.1" x2="1219.5" y2="281.8" stroke="#2b1a8a"/><line x1="1227.5" y1="308.0" x2="1227.5" y2="282.4" stroke="#2b1a8a"/><line x1="1235.5" y1="307.9" x2="1235.5" y2="287.1" stroke="#2b1a8a"/><line x1="1251.5" y1="307.9" x2="1251.5" y2="318.8" stroke="#b5651d"/><line x1="1259.5" y1="308.0" x2="1259.5" y2="318.9" stroke="#b5651d"/><line x1="1267.5" y1="308.0" x2="1267.5" y2="328.9" stroke="#b5651d"/><line x1="1275.5" y1="308.1" x2="1275.5" y2="334.0" stroke="#b5651d"/><line x1="1283.5" y1="308.1" x2="1283.5" y2="337.3" stroke="#b5651d"/><line x1="1291.5" y1="308.2" x2="1291.5" y2="327.7" stroke="#b5651d"/><line x1="1299.5" y1="308.2" x2="1299.5" y2="301.1" stroke="#2b1a8a"/><line x1="1307.5" y1="307.7" x2="1307.5" y2="277.8" stroke="#2b1a8a"/><line x1="1315.5" y1="306.7" x2="1315.5" y2="270.9" stroke="#2b1a8a"/><line x1="1323.5" y1="305.5" x2="1323.5" y2="270.1" stroke="#2b1a8a"/><line x1="1331.5" y1="304.5" x2="1331.5" y2="265.8" stroke="#2b1a8a"/><line x1="1339.5" y1="303.9" x2="1339.5" y2="257.4" stroke="#2b1a8a"/><line x1="1347.5" y1="303.4" x2="1347.5" y2="253.3" stroke="#2b1a8a"/><line x1="1355.5" y1="302.8" x2="1355.5" y2="252.4" stroke="#2b1a8a"/><line x1="1363.5" y1="301.7" x2="1363.5" y2="246.5" stroke="#2b1a8a"/><line x1="1371.5" y1="300.1" x2="1371.5" y2="234.7" stroke="#2b1a8a"/><line x1="1379.5" y1="298.4" x2="1379.5" y2="228.0" stroke="#2b1a8a"/><line x1="1387.5" y1="297.0" x2="1387.5" y2="224.7" stroke="#2b1a8a"/><line x1="1395.5" y1="296.0" x2="1395.5" y2="224.7" stroke="#2b1a8a"/><line x1="1403.5" y1="295.1" x2="1403.5" y2="234.7" stroke="#2b1a8a"/><line x1="1411.5" y1="294.1" x2="1411.5" y2="238.0" stroke="#2b1a8a"/><line x1="1419.5" y1="292.9" x2="1419.5" y2="233.9" stroke="#2b1a8a"/><line x1="1427.5" y1="291.6" x2="1427.5" y2="229.3" stroke="#2b1a8a"/><line x1="1435.5" y1="290.2" x2="1435.5" y2="229.2" stroke="#2b1a8a"/><line x1="1443.5" y1="289.0" x2="1443.5" y2="226.5" stroke="#2b1a8a"/><line x1="1451.5" y1="287.8" x2="1451.5" y2="222.4" stroke="#2b1a8a"/><line x1="1459.5" y1="286.6" x2="1459.5" y2="226.7" stroke="#2b1a8a"/><line x1="1467.5" y1="285.5" x2="1467.5" y2="229.9" stroke="#2b1a8a"/><line x1="1475.5" y1="284.5" x2="1475.5" y2="226.6" stroke="#2b1a8a"/><line x1="1483.5" y1="283.5" x2="1483.5" y2="220.8" stroke="#2b1a8a"/><line x1="1491.5" y1="282.6" x2="1491.5" y2="227.5" stroke="#2b1a8a"/><line x1="1499.5" y1="281.8" x2="1499.5" y2="234.2" stroke="#2b1a8a"/><line x1="1507.5" y1="281.1" x2="1507.5" y2="238.3" stroke="#2b1a8a"/><line x1="1515.5" y1="280.4" x2="1515.5" y2="235.8" stroke="#2b1a8a"/></g>
<line x1="58" y1="499.7" x2="1692" y2="31.2" stroke="#697b8d" stroke-width="1" stroke-dasharray="17.5 7.36" stroke-dashoffset="19.4"/>
<line x1="58" y1="599.1" x2="1692" y2="130.6" stroke="#697b8d" stroke-width="1" stroke-dasharray="17.5 7.36" stroke-dashoffset="19.4"/>
<polyline points="67.5,450.6 75.5,496.0 179.5,403.5 187.5,489.3 243.5,347.0 291.5,411.2 331.5,346.5 347.5,388.7 387.5,341.4 387.5,378.6 531.5,262.8 571.5,306.5 587.5,264.5 747.5,368.7 803.5,293.9 819.5,359.5 851.5,293.9 907.5,354.7 955.5,274.8 963.5,329.5 1003.5,265.6 1075.5,346.3 1163.5,253.8 1283.5,345.7 1347.5,228.0 1355.5,287.7 1387.5,209.5 1411.5,257.4 1451.5,210.6 1451.5,245.9" stroke="#6d7b88" stroke-width="1" stroke-dasharray="5.5 4.5"/>
<polyline points="59.0,533.9 140.8,533.9 163.5,512.8 171.9,512.0 179.5,504.4 235.5,504.1 243.4,466.6 251.8,463.2 308.1,463.2 323.2,442.2 390.6,442.2 395.5,439.0 403.6,439.0 419.5,406.0 435.4,405.5 443.5,392.3 483.5,392.3 491.4,379.7 515.5,379.7 531.4,360.8 571.6,360.8 579.5,351.7 988.4,351.9 996.0,342.9 1155.7,342.9 1164.1,328.8 1332.3,328.5 1339.8,319.7 1355.8,319.3 1363.5,304.5 1371.8,300.3 1387.6,289.7 1516.0,289.7" stroke="#9932cc" stroke-width="2.2" stroke-linejoin="miter"/>
<polyline points="59.0,491.0 140.8,491.0 163.5,469.1 172.8,468.3 179.5,461.6" stroke="#1e90ff" stroke-width="2.2"/>
<polyline points="179.5,461.6 212.5,461.1" stroke="#ff0000" stroke-width="2.2"/>
<polyline points="212.5,461.1 235.5,460.7 243.4,421.4 251.4,416.8 308.4,416.8 323.5,396.9 390.6,396.9 395.5,393.8 403.6,393.8 419.5,359.8 435.4,359.5 443.5,346.9 483.5,346.9 491.4,336.3 515.5,336.3 531.4,317.1 573.0,317.1 579.5,312.0 611.7,312.0" stroke="#1e90ff" stroke-width="2.2"/>
<polyline points="611.7,312.0 819.4,312.0 823.5,313.8 900.0,314.0" stroke="#ff0000" stroke-width="2.2"/>
<polyline points="900.0,314.0 987.5,314.2 996.0,310.1 1052.3,310.1" stroke="#1e90ff" stroke-width="2.2"/>
<polyline points="1052.3,310.1 1130.5,310.1" stroke="#ff0000" stroke-width="2.2"/>
<polyline points="1130.5,310.1 1155.7,310.1 1164.1,297.0 1234.7,297.0" stroke="#1e90ff" stroke-width="2.2"/>
<polyline points="1234.7,297.0 1266.7,297.0 1275.9,302.0 1291.9,302.0" stroke="#ff0000" stroke-width="2.2"/>
<polyline points="1291.9,302.0 1323.0,302.0 1331.4,298.6 1339.5,288.5 1354.1,287.7 1371.8,266.7 1387.6,257.8 1515.5,257.6" stroke="#1e90ff" stroke-width="2.2"/>
<polyline points="59.0,584.0 67.0,581.6 75.0,579.1 83.0,576.7 91.0,574.3 99.0,571.9 107.0,569.6 115.0,567.2 123.0,564.9 131.0,562.6 139.0,560.3 147.0,558.0 155.0,555.8 163.0,553.4 171.0,550.9 179.0,548.4 187.0,546.1 195.0,543.9 203.0,541.9 211.0,539.8 219.0,537.7 227.0,535.4 235.0,532.9 243.0,530.0 251.0,526.7 259.0,523.2 267.0,519.6 275.0,515.9 283.0,512.3 291.0,508.8 299.0,505.6 307.0,502.5 315.0,499.5 323.0,496.5 331.0,493.4 339.0,490.4 347.0,487.2 355.0,483.9 363.0,480.6 371.0,477.1 379.0,473.6 387.0,470.1 395.0,466.6 403.0,463.2 411.0,459.9 419.0,456.5 427.0,453.2 435.0,450.0 443.0,446.7 451.0,443.5 459.0,440.2 467.0,437.0 475.0,433.8 483.0,430.6 491.0,427.5 499.0,424.3 507.0,421.0 515.0,417.7 523.0,414.2 531.0,410.6 539.0,407.0 547.0,403.6 555.0,400.7 563.0,398.0 571.0,395.2 579.0,392.0 587.0,388.7 595.0,385.2 603.0,381.9 611.0,379.0 619.0,376.3 627.0,373.9 635.0,371.5 643.0,369.2 651.0,367.1 659.0,365.1 667.0,363.1 675.0,361.3 683.0,359.6 691.0,358.1 699.0,356.7 707.0,355.4 715.0,354.2 723.0,353.1 731.0,352.1 739.0,351.2 747.0,350.4 755.0,349.8 763.0,349.0 771.0,348.2 779.0,347.3 787.0,346.3 795.0,345.3 803.0,344.1 811.0,342.9 819.0,341.9 827.0,341.1 835.0,340.5 843.0,340.0 851.0,339.4 859.0,338.5 867.0,337.6 875.0,336.9 883.0,336.3 891.0,335.9 899.0,335.5 907.0,335.0 915.0,334.2 923.0,333.2 931.0,332.1 939.0,330.9 947.0,329.7 955.0,328.6 963.0,327.6 971.0,326.8 979.0,326.1 987.0,325.4 995.0,324.1 1003.0,322.5 1011.0,321.1 1019.0,320.3 1027.0,319.5 1035.0,318.9 1043.0,318.2 1051.0,317.5 1059.0,316.9 1067.0,316.8 1075.0,316.8 1083.0,316.7 1091.0,316.7 1099.0,316.7 1107.0,316.7 1115.0,316.6 1123.0,316.6 1131.0,316.5 1139.0,316.1 1147.0,315.3 1155.0,314.2 1163.0,312.9 1171.0,311.9 1179.0,311.4 1187.0,310.9 1195.0,310.0 1203.0,308.9 1211.0,308.2 1219.0,308.1 1227.0,308.0 1235.0,307.9 1243.0,307.9 1251.0,307.9 1259.0,308.0 1267.0,308.0 1275.0,308.1 1283.0,308.1 1291.0,308.2 1299.0,308.2 1307.0,307.8 1315.0,306.8 1323.0,305.5 1331.0,304.5 1339.0,304.0 1347.0,303.5 1355.0,302.8 1363.0,301.8 1371.0,300.2 1379.0,298.5 1387.0,297.1 1395.0,296.1 1403.0,295.2 1411.0,294.2 1419.0,293.0 1427.0,291.7 1435.0,290.3 1443.0,289.0 1451.0,287.8 1459.0,286.7 1467.0,285.6 1475.0,284.5 1483.0,283.5 1491.0,282.7 1499.0,281.8 1507.0,281.1 1515.0,280.4 1515.5,280.4" stroke="#0000e6" stroke-width="2.4"/>
<polyline points="59.2,528.0 66.0,525.5 75.2,527.1 83.6,522.9 92.0,515.4 98.8,514.2 107.2,515.9 115.6,517.5 124.0,513.7 139.1,505.3 164.3,490.1 179.5,484.6 186.2,489.3 195.5,502.8 203.5,505.3 211.4,501.9 227.6,489.3 235.5,476.7 243.4,459.0 251.8,447.3 275.3,445.2 292.1,450.3 298.9,450.3 309.0,442.2 314.6,435.9 331.5,422.3 347.5,425.9 363.5,419.1 379.5,415.7 403.6,406.7 407.3,403.0 419.5,389.7 435.4,382.2 451.4,373.8 467.5,369.6 483.5,367.0 499.5,357.8 515.5,351.1 531.4,341.8 547.6,342.3 571.6,338.5 587.6,330.1 595.7,331.7 611.7,331.7 619.6,335.1 623.5,335.1 651.4,331.4 667.3,335.1 683.5,341.8 707.5,343.5 723.5,343.5 739.5,347.7 755.5,346.9 771.4,344.3 787.6,343.0 803.5,330.9 811.4,332.6 827.6,346.0 835.5,344.3 843.6,340.1 859.5,331.7 867.6,335.1 883.6,337.6 891.7,339.3 899.2,340.4 907.3,332.8 915.2,321.1 931.4,317.7 947.3,310.1 955.4,307.6 963.5,312.7 971.4,318.5 987.5,307.6 1003.5,300.4 1011.4,300.1 1019.5,305.1 1035.5,311.0 1043.5,306.8 1051.4,307.6 1067.6,312.7 1075.5,315.2 1083.5,321.1 1099.5,325.3 1115.5,327.0 1123.6,326.1 1131.6,321.1 1147.6,304.3 1163.6,290.8 1171.7,287.1 1187.3,295.3 1195.2,297.8 1211.4,295.3 1227.3,295.3 1235.4,297.8 1243.5,306.2 1251.4,312.9 1259.5,313.8 1267.5,318.0 1275.4,321.3 1283.5,323.0 1291.4,319.7 1299.5,307.9 1307.5,295.3 1315.5,291.1 1331.4,285.2 1347.6,278.5 1355.5,277.6 1363.5,273.4 1371.4,266.7 1387.6,260.8 1395.5,261.6 1403.6,265.0 1411.6,267.5 1419.5,265.0 1427.6,261.6 1443.6,260.8 1450.1,259.7 1459.3,259.1 1475.5,256.0 1483.4,254.3 1491.5,254.8 1499.4,257.7 1507.4,260.2 1515.5,258.5" stroke="#9acd32" stroke-width="1.1"/>
<line x1="58" y1="400.2" x2="1260" y2="55.6" stroke="#708090" stroke-width="2.3"/>
<line x1="58" y1="698.5" x2="1692" y2="230.0" stroke="#708090" stroke-width="2.3"/>
<g shape-rendering="crispEdges">
<path d="M147.5 435.5V448.9M155.5 424.6V439.7M163.5 416.2V432.1M171.5 420.4V433.8M179.5 403.5V420.4M227.5 432.1V447.3M235.5 377.4V443.9M243.5 347.0V386.4M251.5 363.4V381.4M259.5 363.9V384.2M267.5 365.0V383.1M275.5 367.9V385.9M315.5 353.2V375.2M323.5 348.2V354.9M331.5 346.5V356.0M339.5 353.8V370.1M347.5 357.2V388.7M355.5 347.6V367.3M363.5 347.6V360.0M371.5 356.0V367.9M379.5 349.8V363.4M387.5 341.4V378.6M395.5 340.3V349.3M403.5 335.2V363.9M411.5 316.6V353.6M419.5 309.0V320.8M427.5 310.7V334.3M435.5 304.8V321.6M443.5 294.7V310.7M451.5 295.6V309.9M459.5 292.2V330.9M467.5 287.2V305.7M475.5 297.3V312.4M483.5 298.9V312.4M491.5 278.8V299.8M499.5 282.1V304.8M507.5 287.2V304.0M515.5 269.0V312.4M523.5 266.7V296.4M531.5 262.8V275.4M539.5 271.2V289.7M547.5 277.9V288.0M555.5 275.4V282.1M579.5 265.3V278.8M587.5 264.5V276.2M595.5 270.4V287.2M603.5 272.9V290.5M795.5 309.0V350.2M803.5 293.9V330.9M811.5 314.1V340.1M851.5 293.9V347.7M859.5 305.7V340.1M867.5 322.5V342.7M875.5 329.2V353.6M883.5 327.5V342.7M907.5 301.7V354.7M915.5 289.1V307.6M923.5 287.4V322.8M931.5 295.0V311.0M939.5 284.1V299.2M947.5 280.7V293.3M955.5 274.8V298.4M995.5 270.6V284.1M1003.5 265.6V287.4M1011.5 267.3V285.8M1019.5 286.6V317.7M1027.5 286.6V321.1M1035.5 284.1V318.5M1043.5 284.1V299.2M1051.5 289.1V317.7M1059.5 305.1V322.8M1067.5 299.2V312.7M1075.5 311.0V346.3M1083.5 315.2V341.2M1091.5 320.2V339.6M1099.5 327.0V347.1M1107.5 332.8V344.6M1115.5 329.5V342.1M1123.5 329.5V344.6M1131.5 296.7V337.9M1139.5 286.6V307.6M1147.5 272.3V299.2M1155.5 268.9V284.1M1163.5 253.8V274.0M1171.5 254.1V269.2M1179.5 254.1V281.8M1187.5 279.3V304.5M1195.5 271.7V297.0M1203.5 273.4V288.5M1211.5 275.1V285.2M1219.5 279.3V286.0M1227.5 275.9V284.3M1299.5 269.2V318.8M1307.5 264.2V279.3M1315.5 268.4V277.6M1323.5 265.0V274.3M1331.5 258.3V273.4M1339.5 249.0V261.6M1347.5 228.0V261.6M1355.5 229.7V287.7M1363.5 230.5V250.7M1371.5 222.1V242.3M1379.5 215.1V234.7M1387.5 209.5V228.0M1395.5 218.8V233.1M1451.5 210.6V245.9M1459.5 211.5V242.6M1467.5 214.0V240.9M1475.5 211.5V239.2M1483.5 217.3V231.6M1491.5 219.9V233.3" stroke="#008000" stroke-width="1"/>
<path d="M147.5 436.3V443.9M155.5 429.6V437.2M163.5 420.4V427.9M171.5 422.0V428.8M179.5 409.4V414.5M227.5 433.8V446.4M235.5 384.8V430.4M243.5 365.0V386.4M251.5 365.0V366.7M259.5 364.5V380.2M267.5 366.7V381.4M275.5 368.4V372.9M315.5 353.8V371.2M323.5 349.8V353.8M331.5 351.0V353.2M339.5 354.3V363.4M347.5 364.5V375.7M355.5 359.4V362.8M363.5 357.7V359.4M371.5 358.3V360.0M379.5 358.3V361.1M387.5 345.3V362.2M395.5 345.3V347.6M403.5 341.4V357.7M411.5 320.0V341.8M419.5 310.7V318.3M427.5 311.6V314.1M435.5 308.2V314.1M443.5 297.3V305.7M451.5 295.6V309.0M459.5 295.6V321.6M467.5 293.1V301.5M475.5 301.5V304.8M483.5 299.3V305.7M491.5 285.5V299.8M499.5 286.3V295.6M507.5 293.9V297.3M515.5 272.9V281.3M523.5 269.5V280.4M531.5 267.8V274.6M539.5 272.9V283.0M547.5 280.4V283.8M555.5 276.2V280.4M579.5 266.2V275.4M587.5 266.2V275.4M595.5 274.6V286.3M603.5 273.7V286.3M795.5 310.7V337.6M803.5 309.0V313.2M811.5 314.1V336.8M851.5 307.3V335.1M859.5 306.5V340.1M867.5 338.5V341.0M875.5 338.5V341.0M883.5 334.3V337.6M907.5 304.3V341.2M915.5 291.6V304.3M923.5 290.8V308.5M931.5 295.8V307.6M939.5 287.4V298.4M947.5 285.8V290.8M955.5 278.2V289.1M995.5 274.8V282.4M1003.5 273.1V279.9M1011.5 269.8V279.0M1019.5 299.2V301.7M1027.5 300.1V314.3M1035.5 284.9V314.3M1043.5 285.8V294.2M1051.5 292.5V312.7M1059.5 312.7V316.0M1067.5 305.9V309.3M1075.5 316.9V342.1M1083.5 316.9V337.0M1091.5 327.0V332.0M1099.5 328.6V342.1M1107.5 336.2V338.7M1115.5 332.0V334.5M1123.5 332.8V335.4M1131.5 304.3V337.0M1139.5 297.5V303.4M1147.5 277.3V295.8M1155.5 274.0V278.2M1163.5 257.2V274.0M1171.5 256.6V260.0M1179.5 259.1V281.8M1187.5 281.8V284.3M1195.5 281.0V286.0M1203.5 275.1V282.7M1211.5 277.6V281.0M1219.5 281.0V284.3M1227.5 281.0V282.7M1299.5 275.9V317.1M1307.5 272.6V275.9M1315.5 270.1V272.6M1323.5 269.2V270.9M1331.5 260.8V269.2M1339.5 252.4V258.3M1347.5 250.7V260.8M1355.5 248.2V284.3M1363.5 234.7V245.7M1371.5 228.9V234.7M1379.5 227.2V229.7M1387.5 223.8V227.2M1395.5 223.8V232.2M1451.5 212.3V219.0M1459.5 213.1V239.2M1467.5 227.4V239.2M1475.5 216.5V228.3M1483.5 219.0V222.4M1491.5 220.7V232.5" stroke="#008000" stroke-width="3"/>
<path d="M59.5 459.0V474.2M67.5 450.6V481.7M75.5 474.2V496.0M83.5 438.9V477.5M91.5 448.9V465.8M99.5 448.9V474.2M107.5 454.0V475.8M115.5 462.4V474.2M123.5 441.4V465.8M131.5 447.3V470.0M139.5 440.5V455.7M187.5 410.3V489.3M195.5 450.6V487.6M203.5 454.8V484.3M211.5 449.8V474.2M219.5 437.2V464.1M283.5 371.2V389.3M291.5 383.1V411.2M299.5 383.1V405.0M307.5 370.1V390.4M563.5 274.6V289.7M571.5 273.7V306.5M611.5 273.7V295.6M619.5 291.4V305.7M627.5 285.5V310.7M635.5 286.3V304.8M643.5 286.3V300.6M651.5 286.3V308.2M659.5 293.1V309.0M667.5 304.8V314.1M675.5 304.8V317.4M683.5 321.6V352.8M691.5 318.3V338.5M699.5 323.3V335.9M707.5 329.2V347.7M715.5 324.2V333.4M723.5 326.7V347.7M731.5 335.1V346.0M739.5 330.9V362.8M747.5 344.3V368.7M755.5 335.1V351.1M763.5 334.3V354.4M771.5 331.7V347.7M779.5 335.1V347.7M787.5 331.7V347.7M819.5 330.1V359.5M827.5 341.8V359.5M835.5 333.4V354.4M843.5 330.1V353.6M891.5 334.5V352.2M899.5 337.0V352.2M963.5 291.6V329.5M971.5 296.7V316.9M979.5 290.0V312.7M987.5 280.7V305.1M1235.5 281.0V300.3M1243.5 304.5V330.6M1251.5 307.9V330.6M1259.5 307.9V324.7M1267.5 307.9V336.5M1275.5 333.9V344.9M1283.5 332.3V345.7M1291.5 309.6V338.2M1403.5 231.4V247.3M1411.5 227.2V257.4M1419.5 223.8V244.8M1427.5 217.9V236.4M1435.5 221.3V240.6M1443.5 214.0V240.9M1499.5 229.1V242.6M1507.5 235.0V245.1M1515.5 233.3V239.2" stroke="#ff0000" stroke-width="1"/>
<path d="M59.5 460.4V471.6M67.5 460.7V477.5M75.5 475.0V479.2M83.5 456.5V475.0M91.5 448.9V455.7M99.5 449.8V454.8M107.5 454.0V465.8M115.5 463.2V466.6M123.5 454.8V462.4M131.5 454.0V462.4M139.5 441.4V455.7M187.5 414.5V464.9M195.5 469.1V475.8M203.5 462.4V476.7M211.5 459.9V464.1M219.5 447.3V463.2M283.5 374.6V388.7M291.5 393.8V397.1M299.5 387.6V396.6M307.5 371.2V387.6M563.5 275.4V288.0M571.5 275.4V295.6M611.5 274.6V291.4M619.5 291.4V299.8M627.5 297.3V299.8M635.5 296.4V298.9M643.5 287.2V298.9M651.5 287.2V299.8M659.5 298.1V306.5M667.5 305.7V312.4M675.5 310.7V313.2M683.5 326.7V341.8M691.5 325.8V330.1M699.5 327.5V332.6M707.5 329.2V332.6M715.5 329.2V330.9M723.5 329.2V341.0M731.5 337.6V342.7M739.5 335.9V350.2M747.5 347.7V350.2M755.5 344.3V346.9M763.5 335.1V346.0M771.5 335.1V338.5M779.5 338.5V341.0M787.5 333.4V341.0M819.5 339.3V353.6M827.5 347.7V354.4M835.5 335.1V346.0M843.5 335.1V338.5M891.5 336.2V350.5M899.5 346.3V352.2M963.5 312.7V315.2M971.5 309.3V316.0M979.5 305.1V307.6M987.5 282.4V304.3M1235.5 282.7V299.5M1243.5 312.1V328.1M1251.5 313.8V325.5M1259.5 314.6V323.9M1267.5 327.2V334.8M1275.5 335.6V343.2M1283.5 336.5V344.0M1291.5 314.6V336.5M1403.5 231.4V244.0M1411.5 228.0V255.8M1419.5 228.9V233.1M1427.5 222.1V234.7M1435.5 222.1V237.3M1443.5 220.7V236.7M1499.5 230.8V240.9M1507.5 237.5V239.2M1515.5 234.2V239.2" stroke="#ff0000" stroke-width="3"/>
</g>
<polyline points="59.2,468.3 67.3,470.0 75.2,475.0 83.3,469.1 91.4,455.3 99.3,454.5 107.3,459.0 115.4,464.1 123.5,461.6 131.4,456.5 139.5,448.9 147.5,438.9 155.4,433.0 163.5,427.1 171.4,425.4 179.5,421.2 187.5,435.5 195.5,462.4 203.5,467.4 211.4,462.4 219.5,456.5 227.6,443.9 235.4,415.7 243.4,386.4 251.4,367.9 259.4,372.4 267.4,374.4 275.4,373.5 283.4,381.4 291.5,390.4 299.5,394.5 307.5,384.2 315.5,369.0 323.5,353.8 331.5,351.5 339.5,357.2 347.5,365.0 355.5,362.2 363.5,357.2 371.5,359.2 379.5,359.4 387.5,356.0 395.5,350.4 403.6,345.9 411.4,335.1 419.5,320.8 427.5,316.6 435.4,314.1 443.5,305.7 451.4,302.8 459.5,303.7 467.5,302.0 475.5,303.5 483.5,304.0 491.4,295.6 499.5,290.5 507.6,294.7 515.5,291.4 523.5,280.4 531.4,274.1 539.5,275.7 547.6,282.1 555.5,280.4 563.6,281.3 571.6,283.0 579.5,276.2 587.6,270.4 595.7,277.1 603.6,279.6 611.3,281.3 619.2,293.1 627.3,298.6 635.2,297.3 643.3,293.6 651.4,294.4 659.3,302.3 667.3,308.7 675.4,312.4 683.5,321.6 691.4,330.1 699.5,330.6 707.5,331.7 715.4,330.4 723.5,332.6 731.4,336.3 739.5,343.0 747.5,349.4 755.5,346.9 763.5,341.8 771.4,339.0 779.5,340.1 787.6,337.6 795.5,327.5 803.5,316.6 811.4,321.6 819.5,339.3 827.6,348.5 835.5,346.0 843.6,340.1 851.6,329.2 859.5,324.2 867.6,333.4 875.7,337.6 883.6,336.8 891.3,342.9 899.2,346.8 907.3,334.5 915.2,307.6 923.3,302.1 931.4,303.4 939.3,295.8 947.3,289.1 955.4,286.3 963.5,295.8 971.4,310.1 979.5,305.9 987.5,295.8 995.4,282.4 1003.5,276.5 1011.4,276.5 1019.5,287.4 1027.5,305.9 1035.5,299.2 1043.5,293.3 1051.4,299.2 1059.5,310.1 1067.6,310.1 1075.5,315.2 1083.5,329.5 1091.4,331.2 1099.5,333.7 1107.6,336.7 1115.5,334.5 1123.6,334.5 1131.6,321.1 1139.5,304.3 1147.6,291.6 1155.7,278.2 1163.6,267.3 1171.3,259.1 1179.2,267.5 1187.3,279.3 1195.2,285.2 1203.3,281.0 1211.4,280.1 1219.3,281.8 1227.3,282.3 1235.4,286.9 1243.5,306.2 1251.4,318.8 1259.5,318.8 1267.5,328.9 1275.4,333.9 1283.5,337.3 1291.4,328.1 1299.5,301.2 1307.5,277.6 1315.5,270.9 1323.5,270.1 1331.4,265.8 1339.5,257.4 1347.6,253.2 1355.5,252.4 1363.5,246.5 1371.4,234.7 1379.5,228.0 1387.6,224.6 1395.5,224.6 1403.6,234.7 1411.6,238.1 1419.5,233.9 1427.6,229.2 1435.7,229.2 1443.4,226.6 1451.4,222.4 1459.3,226.6 1467.4,230.0 1475.5,226.6 1483.4,220.7 1491.5,227.4 1499.4,234.2 1507.4,238.4 1515.5,235.8" stroke="#000" stroke-width="1.1"/>
<path d="M58.0 460.5h-2.2M61.0 472.5h2.2M66.0 461.5h-2.2M69.0 478.5h2.2M74.0 475.5h-2.2M77.0 479.5h2.2M82.0 457.5h-2.2M85.0 475.5h2.2M90.0 449.5h-2.2M93.0 456.5h2.2M98.0 450.5h-2.2M101.0 455.5h2.2M106.0 454.5h-2.2M109.0 466.5h2.2M114.0 463.5h-2.2M117.0 467.5h2.2M122.0 455.5h-2.2M125.0 462.5h2.2M130.0 454.5h-2.2M133.0 462.5h2.2M138.0 441.5h-2.2M141.0 456.5h2.2M146.0 444.5h-2.2M149.0 436.5h2.2M154.0 437.5h-2.2M157.0 430.5h2.2M162.0 428.5h-2.2M165.0 420.5h2.2M170.0 429.5h-2.2M173.0 422.5h2.2M178.0 414.5h-2.2M181.0 409.5h2.2M186.0 414.5h-2.2M189.0 465.5h2.2M194.0 469.5h-2.2M197.0 476.5h2.2M202.0 462.5h-2.2M205.0 477.5h2.2M210.0 460.5h-2.2M213.0 464.5h2.2M218.0 447.5h-2.2M221.0 463.5h2.2M226.0 446.5h-2.2M229.0 434.5h2.2M234.0 430.5h-2.2M237.0 385.5h2.2M242.0 386.5h-2.2M245.0 365.5h2.2M250.0 367.5h-2.2M253.0 365.5h2.2M258.0 380.5h-2.2M261.0 364.5h2.2M266.0 381.5h-2.2M269.0 367.5h2.2M274.0 373.5h-2.2M277.0 368.5h2.2M282.0 375.5h-2.2M285.0 389.5h2.2M290.0 394.5h-2.2M293.0 397.5h2.2M298.0 388.5h-2.2M301.0 397.5h2.2M306.0 371.5h-2.2M309.0 388.5h2.2M314.0 371.5h-2.2M317.0 354.5h2.2M322.0 354.5h-2.2M325.0 350.5h2.2M330.0 353.5h-2.2M333.0 351.5h2.2M338.0 363.5h-2.2M341.0 354.5h2.2M346.0 376.5h-2.2M349.0 364.5h2.2M354.0 363.5h-2.2M357.0 359.5h2.2M362.0 359.5h-2.2M365.0 358.5h2.2M370.0 360.5h-2.2M373.0 358.5h2.2M378.0 361.5h-2.2M381.0 358.5h2.2M386.0 362.5h-2.2M389.0 345.5h2.2M394.0 348.5h-2.2M397.0 345.5h2.2M402.0 358.5h-2.2M405.0 341.5h2.2M410.0 342.5h-2.2M413.0 320.5h2.2M418.0 318.5h-2.2M421.0 311.5h2.2M426.0 314.5h-2.2M429.0 312.5h2.2M434.0 314.5h-2.2M437.0 308.5h2.2M442.0 306.5h-2.2M445.0 297.5h2.2M450.0 309.5h-2.2M453.0 296.5h2.2M458.0 322.5h-2.2M461.0 296.5h2.2M466.0 301.5h-2.2M469.0 293.5h2.2M474.0 305.5h-2.2M477.0 301.5h2.2M482.0 306.5h-2.2M485.0 299.5h2.2M490.0 300.5h-2.2M493.0 285.5h2.2M498.0 296.5h-2.2M501.0 286.5h2.2M506.0 297.5h-2.2M509.0 294.5h2.2M514.0 281.5h-2.2M517.0 273.5h2.2M522.0 280.5h-2.2M525.0 270.5h2.2M530.0 275.5h-2.2M533.0 268.5h2.2M538.0 283.5h-2.2M541.0 273.5h2.2M546.0 284.5h-2.2M549.0 280.5h2.2M554.0 280.5h-2.2M557.0 276.5h2.2M562.0 275.5h-2.2M565.0 288.5h2.2M570.0 275.5h-2.2M573.0 296.5h2.2M578.0 275.5h-2.2M581.0 266.5h2.2M586.0 275.5h-2.2M589.0 266.5h2.2M594.0 286.5h-2.2M597.0 275.5h2.2M602.0 286.5h-2.2M605.0 274.5h2.2M610.0 275.5h-2.2M613.0 291.5h2.2M618.0 291.5h-2.2M621.0 300.5h2.2M626.0 297.5h-2.2M629.0 300.5h2.2M634.0 296.5h-2.2M637.0 299.5h2.2M642.0 287.5h-2.2M645.0 299.5h2.2M650.0 287.5h-2.2M653.0 300.5h2.2M658.0 298.5h-2.2M661.0 307.5h2.2M666.0 306.5h-2.2M669.0 312.5h2.2M674.0 311.5h-2.2M677.0 313.5h2.2M682.0 327.5h-2.2M685.0 342.5h2.2M690.0 326.5h-2.2M693.0 330.5h2.2M698.0 328.5h-2.2M701.0 333.5h2.2M706.0 329.5h-2.2M709.0 333.5h2.2M714.0 329.5h-2.2M717.0 331.5h2.2M722.0 329.5h-2.2M725.0 341.5h2.2M730.0 338.5h-2.2M733.0 343.5h2.2M738.0 336.5h-2.2M741.0 350.5h2.2M746.0 348.5h-2.2M749.0 350.5h2.2M754.0 344.5h-2.2M757.0 347.5h2.2M762.0 335.5h-2.2M765.0 346.5h2.2M770.0 335.5h-2.2M773.0 338.5h2.2M778.0 338.5h-2.2M781.0 341.5h2.2M786.0 333.5h-2.2M789.0 341.5h2.2M794.0 338.5h-2.2M797.0 311.5h2.2M802.0 313.5h-2.2M805.0 309.5h2.2M810.0 337.5h-2.2M813.0 314.5h2.2M818.0 339.5h-2.2M821.0 354.5h2.2M826.0 348.5h-2.2M829.0 354.5h2.2M834.0 335.5h-2.2M837.0 346.5h2.2M842.0 335.5h-2.2M845.0 338.5h2.2M850.0 335.5h-2.2M853.0 307.5h2.2M858.0 340.5h-2.2M861.0 307.5h2.2M866.0 341.5h-2.2M869.0 338.5h2.2M874.0 341.5h-2.2M877.0 338.5h2.2M882.0 338.5h-2.2M885.0 334.5h2.2M890.0 336.5h-2.2M893.0 350.5h2.2M898.0 346.5h-2.2M901.0 352.5h2.2M906.0 341.5h-2.2M909.0 304.5h2.2M914.0 304.5h-2.2M917.0 292.5h2.2M922.0 308.5h-2.2M925.0 291.5h2.2M930.0 308.5h-2.2M933.0 296.5h2.2M938.0 298.5h-2.2M941.0 287.5h2.2M946.0 291.5h-2.2M949.0 286.5h2.2M954.0 289.5h-2.2M957.0 278.5h2.2M962.0 313.5h-2.2M965.0 315.5h2.2M970.0 309.5h-2.2M973.0 316.5h2.2M978.0 305.5h-2.2M981.0 308.5h2.2M986.0 282.5h-2.2M989.0 304.5h2.2M994.0 282.5h-2.2M997.0 275.5h2.2M1002.0 280.5h-2.2M1005.0 273.5h2.2M1010.0 279.5h-2.2M1013.0 270.5h2.2M1018.0 302.5h-2.2M1021.0 299.5h2.2M1026.0 314.5h-2.2M1029.0 300.5h2.2M1034.0 314.5h-2.2M1037.0 285.5h2.2M1042.0 294.5h-2.2M1045.0 286.5h2.2M1050.0 313.5h-2.2M1053.0 292.5h2.2M1058.0 316.5h-2.2M1061.0 313.5h2.2M1066.0 309.5h-2.2M1069.0 306.5h2.2M1074.0 342.5h-2.2M1077.0 317.5h2.2M1082.0 337.5h-2.2M1085.0 317.5h2.2M1090.0 332.5h-2.2M1093.0 327.5h2.2M1098.0 342.5h-2.2M1101.0 329.5h2.2M1106.0 339.5h-2.2M1109.0 336.5h2.2M1114.0 335.5h-2.2M1117.0 332.5h2.2M1122.0 335.5h-2.2M1125.0 333.5h2.2M1130.0 337.5h-2.2M1133.0 304.5h2.2M1138.0 303.5h-2.2M1141.0 298.5h2.2M1146.0 296.5h-2.2M1149.0 277.5h2.2M1154.0 278.5h-2.2M1157.0 274.5h2.2M1162.0 274.5h-2.2M1165.0 257.5h2.2M1170.0 260.5h-2.2M1173.0 257.5h2.2M1178.0 282.5h-2.2M1181.0 259.5h2.2M1186.0 284.5h-2.2M1189.0 282.5h2.2M1194.0 286.5h-2.2M1197.0 281.5h2.2M1202.0 283.5h-2.2M1205.0 275.5h2.2M1210.0 281.5h-2.2M1213.0 278.5h2.2M1218.0 284.5h-2.2M1221.0 281.5h2.2M1226.0 283.5h-2.2M1229.0 281.5h2.2M1234.0 283.5h-2.2M1237.0 299.5h2.2M1242.0 312.5h-2.2M1245.0 328.5h2.2M1250.0 314.5h-2.2M1253.0 326.5h2.2M1258.0 315.5h-2.2M1261.0 324.5h2.2M1266.0 327.5h-2.2M1269.0 335.5h2.2M1274.0 336.5h-2.2M1277.0 343.5h2.2M1282.0 336.5h-2.2M1285.0 344.5h2.2M1290.0 315.5h-2.2M1293.0 336.5h2.2M1298.0 317.5h-2.2M1301.0 276.5h2.2M1306.0 276.5h-2.2M1309.0 273.5h2.2M1314.0 273.5h-2.2M1317.0 270.5h2.2M1322.0 271.5h-2.2M1325.0 269.5h2.2M1330.0 269.5h-2.2M1333.0 261.5h2.2M1338.0 258.5h-2.2M1341.0 252.5h2.2M1346.0 261.5h-2.2M1349.0 251.5h2.2M1354.0 284.5h-2.2M1357.0 248.5h2.2M1362.0 246.5h-2.2M1365.0 235.5h2.2M1370.0 235.5h-2.2M1373.0 229.5h2.2M1378.0 230.5h-2.2M1381.0 227.5h2.2M1386.0 227.5h-2.2M1389.0 224.5h2.2M1394.0 232.5h-2.2M1397.0 224.5h2.2M1402.0 231.5h-2.2M1405.0 244.5h2.2M1410.0 228.5h-2.2M1413.0 256.5h2.2M1418.0 229.5h-2.2M1421.0 233.5h2.2M1426.0 222.5h-2.2M1429.0 235.5h2.2M1434.0 222.5h-2.2M1437.0 237.5h2.2M1442.0 221.5h-2.2M1445.0 237.5h2.2M1450.0 219.5h-2.2M1453.0 212.5h2.2M1458.0 239.5h-2.2M1461.0 213.5h2.2M1466.0 239.5h-2.2M1469.0 227.5h2.2M1474.0 228.5h-2.2M1477.0 217.5h2.2M1482.0 222.5h-2.2M1485.0 219.5h2.2M1490.0 232.5h-2.2M1493.0 221.5h2.2M1498.0 231.5h-2.2M1501.0 241.5h2.2M1506.0 238.5h-2.2M1509.0 239.5h2.2M1514.0 234.5h-2.2M1517.0 239.5h2.2" stroke="#000" stroke-width="1" shape-rendering="crispEdges"/>
<circle cx="67.5" cy="448.3" r="1.6" fill="#1414e6"/><circle cx="75.5" cy="497.7" r="1.6" fill="#ff2a00"/><circle cx="83.5" cy="439.5" r="1.6" fill="#1414e6"/><circle cx="123.5" cy="441.2" r="1.6" fill="#1414e6"/><circle cx="147.5" cy="436.2" r="1.6" fill="#1414e6"/><circle cx="155.5" cy="426.1" r="3.6" fill="#00bfff"/><circle cx="155.5" cy="427.4" r="1.4" fill="#1010e0"/><circle cx="163.5" cy="417.7" r="3.6" fill="#00bfff"/><circle cx="163.5" cy="419.0" r="1.4" fill="#1010e0"/><circle cx="179.5" cy="403.7" r="3.6" fill="#00bfff"/><circle cx="179.5" cy="405.0" r="1.4" fill="#1010e0"/><circle cx="187.5" cy="491.0" r="1.6" fill="#ff2a00"/><circle cx="227.5" cy="433.5" r="1.6" fill="#1414e6"/><circle cx="235.5" cy="377.9" r="3.6" fill="#00bfff"/><circle cx="235.5" cy="379.2" r="1.4" fill="#1010e0"/><circle cx="243.5" cy="347.5" r="3.6" fill="#00bfff"/><circle cx="243.5" cy="348.8" r="1.4" fill="#1010e0"/><circle cx="283.5" cy="388.7" r="1.6" fill="#ff2a00"/><circle cx="291.5" cy="411.4" r="1.6" fill="#ff2a00"/><circle cx="315.5" cy="354.2" r="1.6" fill="#1414e6"/><circle cx="323.5" cy="349.2" r="1.6" fill="#1414e6"/><circle cx="331.5" cy="346.9" r="3.6" fill="#00bfff"/><circle cx="331.5" cy="348.2" r="1.4" fill="#1010e0"/><circle cx="347.5" cy="389.6" r="1.6" fill="#ff2a00"/><circle cx="387.5" cy="341.8" r="3.6" fill="#00bfff"/><circle cx="387.5" cy="343.1" r="1.4" fill="#1010e0"/><circle cx="387.5" cy="379.3" r="1.6" fill="#ff2a00"/><circle cx="395.5" cy="341.3" r="3.6" fill="#00bfff"/><circle cx="395.5" cy="342.6" r="1.4" fill="#1010e0"/><circle cx="403.5" cy="336.0" r="3.6" fill="#00bfff"/><circle cx="403.5" cy="337.3" r="1.4" fill="#1010e0"/><circle cx="411.5" cy="317.3" r="3.6" fill="#00bfff"/><circle cx="411.5" cy="318.6" r="1.4" fill="#1010e0"/><circle cx="419.5" cy="309.7" r="3.6" fill="#00bfff"/><circle cx="419.5" cy="311.0" r="1.4" fill="#1010e0"/><circle cx="435.5" cy="305.8" r="3.6" fill="#00bfff"/><circle cx="435.5" cy="307.1" r="1.4" fill="#1010e0"/><circle cx="443.5" cy="295.4" r="3.6" fill="#00bfff"/><circle cx="443.5" cy="296.7" r="1.4" fill="#1010e0"/><circle cx="459.5" cy="293.2" r="3.6" fill="#00bfff"/><circle cx="459.5" cy="294.5" r="1.4" fill="#1010e0"/><circle cx="467.5" cy="287.8" r="3.6" fill="#00bfff"/><circle cx="467.5" cy="289.1" r="1.4" fill="#1010e0"/><circle cx="491.5" cy="279.4" r="3.6" fill="#00bfff"/><circle cx="491.5" cy="280.7" r="1.4" fill="#1010e0"/><circle cx="515.5" cy="269.7" r="3.6" fill="#00bfff"/><circle cx="515.5" cy="271.0" r="1.4" fill="#1010e0"/><circle cx="523.5" cy="267.5" r="3.6" fill="#00bfff"/><circle cx="523.5" cy="268.8" r="1.4" fill="#1010e0"/><circle cx="531.5" cy="263.5" r="3.6" fill="#00bfff"/><circle cx="531.5" cy="264.8" r="1.4" fill="#1010e0"/><circle cx="563.5" cy="290.2" r="1.6" fill="#ff2a00"/><circle cx="571.5" cy="307.3" r="1.6" fill="#ff2a00"/><circle cx="579.5" cy="266.0" r="1.6" fill="#1414e6"/><circle cx="587.5" cy="265.5" r="1.6" fill="#1414e6"/><circle cx="611.5" cy="293.6" r="1.6" fill="#ff2a00"/><circle cx="619.5" cy="305.7" r="1.6" fill="#ff2a00"/><circle cx="667.5" cy="316.6" r="3.5" fill="#ff4500"/><circle cx="667.5" cy="315.6" r="1.5" fill="#e01000"/><circle cx="675.5" cy="320.0" r="3.5" fill="#ff4500"/><circle cx="675.5" cy="319.0" r="1.5" fill="#e01000"/><circle cx="683.5" cy="354.4" r="3.5" fill="#ff4500"/><circle cx="683.5" cy="353.4" r="1.5" fill="#e01000"/><circle cx="739.5" cy="362.8" r="3.5" fill="#ff4500"/><circle cx="739.5" cy="361.8" r="1.5" fill="#e01000"/><circle cx="747.5" cy="369.2" r="3.5" fill="#ff4500"/><circle cx="747.5" cy="368.2" r="1.5" fill="#e01000"/><circle cx="795.5" cy="310.0" r="1.6" fill="#1414e6"/><circle cx="803.5" cy="294.6" r="1.6" fill="#1414e6"/><circle cx="819.5" cy="360.3" r="1.6" fill="#ff2a00"/><circle cx="851.5" cy="294.6" r="1.6" fill="#1414e6"/><circle cx="891.5" cy="353.9" r="1.6" fill="#ff2a00"/><circle cx="907.5" cy="355.0" r="1.6" fill="#ff2a00"/><circle cx="915.5" cy="289.3" r="3.6" fill="#00bfff"/><circle cx="915.5" cy="290.6" r="1.4" fill="#1010e0"/><circle cx="923.5" cy="288.4" r="3.6" fill="#00bfff"/><circle cx="923.5" cy="289.7" r="1.4" fill="#1010e0"/><circle cx="939.5" cy="284.6" r="3.6" fill="#00bfff"/><circle cx="939.5" cy="285.9" r="1.4" fill="#1010e0"/><circle cx="947.5" cy="282.0" r="3.6" fill="#00bfff"/><circle cx="947.5" cy="283.3" r="1.4" fill="#1010e0"/><circle cx="955.5" cy="275.8" r="3.6" fill="#00bfff"/><circle cx="955.5" cy="277.1" r="1.4" fill="#1010e0"/><circle cx="963.5" cy="330.3" r="1.6" fill="#ff2a00"/><circle cx="995.5" cy="271.6" r="3.6" fill="#00bfff"/><circle cx="995.5" cy="272.9" r="1.4" fill="#1010e0"/><circle cx="1003.5" cy="266.6" r="3.6" fill="#00bfff"/><circle cx="1003.5" cy="267.9" r="1.4" fill="#1010e0"/><circle cx="1019.5" cy="317.4" r="1.6" fill="#ff2a00"/><circle cx="1027.5" cy="323.6" r="1.6" fill="#ff2a00"/><circle cx="1075.5" cy="346.3" r="1.6" fill="#ff2a00"/><circle cx="1083.5" cy="347.1" r="3.5" fill="#ff4500"/><circle cx="1083.5" cy="346.1" r="1.5" fill="#e01000"/><circle cx="1131.5" cy="297.4" r="1.6" fill="#1414e6"/><circle cx="1139.5" cy="287.3" r="1.6" fill="#1414e6"/><circle cx="1147.5" cy="272.8" r="1.6" fill="#1414e6"/><circle cx="1155.5" cy="269.1" r="1.6" fill="#1414e6"/><circle cx="1163.5" cy="254.0" r="3.6" fill="#00bfff"/><circle cx="1163.5" cy="255.3" r="1.4" fill="#1010e0"/><circle cx="1187.5" cy="305.4" r="1.6" fill="#ff2a00"/><circle cx="1235.5" cy="299.5" r="1.6" fill="#ff2a00"/><circle cx="1243.5" cy="331.4" r="1.6" fill="#ff2a00"/><circle cx="1267.5" cy="338.2" r="1.6" fill="#ff2a00"/><circle cx="1275.5" cy="341.5" r="1.6" fill="#ff2a00"/><circle cx="1283.5" cy="346.6" r="3.5" fill="#ff4500"/><circle cx="1283.5" cy="345.6" r="1.5" fill="#e01000"/><circle cx="1299.5" cy="269.4" r="1.6" fill="#1414e6"/><circle cx="1307.5" cy="264.3" r="1.6" fill="#1414e6"/><circle cx="1331.5" cy="258.4" r="1.6" fill="#1414e6"/><circle cx="1339.5" cy="249.7" r="3.6" fill="#00bfff"/><circle cx="1339.5" cy="251.0" r="1.4" fill="#1010e0"/><circle cx="1347.5" cy="229.0" r="3.6" fill="#00bfff"/><circle cx="1347.5" cy="230.3" r="1.4" fill="#1010e0"/><circle cx="1355.5" cy="288.5" r="1.6" fill="#ff2a00"/><circle cx="1371.5" cy="222.8" r="3.6" fill="#00bfff"/><circle cx="1371.5" cy="224.1" r="1.4" fill="#1010e0"/><circle cx="1379.5" cy="216.1" r="3.6" fill="#00bfff"/><circle cx="1379.5" cy="217.4" r="1.4" fill="#1010e0"/><circle cx="1387.5" cy="210.5" r="3.6" fill="#00bfff"/><circle cx="1387.5" cy="211.8" r="1.4" fill="#1010e0"/><circle cx="1403.5" cy="247.3" r="1.6" fill="#ff2a00"/><circle cx="1411.5" cy="257.4" r="1.6" fill="#ff2a00"/><circle cx="1443.5" cy="216.3" r="1.6" fill="#1414e6"/><circle cx="1451.5" cy="206.6" r="3.6" fill="#00bfff"/><circle cx="1451.5" cy="207.9" r="1.4" fill="#1010e0"/><circle cx="1451.5" cy="248.5" r="1.6" fill="#ff2a00"/><circle cx="1499.5" cy="241.7" r="1.6" fill="#ff2a00"/><circle cx="1507.5" cy="243.9" r="1.6" fill="#ff2a00"/>
<line x1="1467.5" y1="231" x2="1467.5" y2="285" stroke="#000" stroke-width="1" shape-rendering="crispEdges"/>
</g>
<g shape-rendering="crispEdges" fill="#000">
<rect x="58" y="58" width="1635" height="1"/>
<rect x="58" y="58" width="1" height="903"/>
<rect x="58" y="960" width="1635" height="1"/>
<rect x="1692" y="58" width="1" height="903"/>
</g>
<path d="M1522 59h10l-5 5z" fill="#c8c8c8"/>
<line x1="1355.2" y1="214.5" x2="1568.5" y2="214.5" stroke="#000" stroke-opacity="0.62" stroke-width="3.4" stroke-dasharray="8.5 3.5" filter="url(#sh2)"/>
<line x1="1353.2" y1="210.0" x2="1566.5" y2="210.0" stroke="#0a0a0a" stroke-width="3.4" stroke-dasharray="8.5 3.5"/>
<line x1="1358.0" y1="288.7" x2="1572.5" y2="288.7" stroke="#000" stroke-opacity="0.62" stroke-width="3.4" stroke-dasharray="8.5 3.5" filter="url(#sh2)"/>
<line x1="1356.0" y1="284.2" x2="1570.5" y2="284.2" stroke="#0a0a0a" stroke-width="3.4" stroke-dasharray="8.5 3.5"/>
<g fill="none" stroke-linecap="round" stroke-linejoin="round">
<g transform="translate(3,3.5)" filter="url(#sh)" stroke="#000" stroke-opacity="0.5" stroke-width="6.5"><path d="M1517.2 230.8C1520 225 1523.5 217.5 1526.9 217.3C1531 217 1532.5 226 1533.8 231.7C1535.5 240 1537 247 1538.2 251.8C1540 259 1541.5 265.8 1544.3 265.8C1547.5 265.8 1549.5 258 1552.2 251.8L1561.8 231.7L1568.8 216.9L1572.3 207.2"/><path d="M1556.6 223L1572.3 207.2L1575.8 229.1"/></g>
<g stroke="#fff" stroke-width="8"><path d="M1517.2 230.8C1520 225 1523.5 217.5 1526.9 217.3C1531 217 1532.5 226 1533.8 231.7C1535.5 240 1537 247 1538.2 251.8C1540 259 1541.5 265.8 1544.3 265.8C1547.5 265.8 1549.5 258 1552.2 251.8L1561.8 231.7L1568.8 216.9L1572.3 207.2"/><path d="M1556.6 223L1572.3 207.2L1575.8 229.1"/></g>
<g stroke="url(#sq)" stroke-width="6"><path d="M1517.2 230.8C1520 225 1523.5 217.5 1526.9 217.3C1531 217 1532.5 226 1533.8 231.7C1535.5 240 1537 247 1538.2 251.8C1540 259 1541.5 265.8 1544.3 265.8C1547.5 265.8 1549.5 258 1552.2 251.8L1561.8 231.7L1568.8 216.9L1572.3 207.2"/><path d="M1556.6 223L1572.3 207.2L1575.8 229.1"/></g>
</g>
<circle cx="1572.0" cy="180.7" r="27" fill="#000" fill-opacity="0.30" filter="url(#sh)"/>
<circle cx="1570.5" cy="178.2" r="27.3" fill="url(#ring)" stroke="#9a9a9a" stroke-width="0.9"/>
<circle cx="1570.5" cy="178.2" r="24.4" fill="none" stroke="#8c8c8c" stroke-width="0.8"/>
<circle cx="1570.5" cy="178.2" r="23.3" fill="url(#gbtn)" stroke="#0a8a10" stroke-width="0.7"/>
<g clip-path="url(#disc)"><path d="M1542 188C1551 172 1570 165.5 1600 166.5V140H1542Z" fill="url(#gloss)"/></g>
<path d="M1571.7 163.3L1587 178.6H1577.8V193.4H1565.9V178.6H1556.7Z" fill="url(#arr)"/>
<g font-family="'Liberation Sans', Arial, sans-serif" font-size="10.1" fill="#000" stroke="#000" stroke-width="0.15" text-rendering="geometricPrecision">
<text x="1698.2" y="67.0" textLength="22.8" lengthAdjust="spacingAndGlyphs">86.15</text>
<text x="1698.2" y="101.0" textLength="22.8" lengthAdjust="spacingAndGlyphs">85.75</text>
<text x="1698.2" y="136.0" textLength="22.8" lengthAdjust="spacingAndGlyphs">85.35</text>
<text x="1698.2" y="170.0" textLength="22.8" lengthAdjust="spacingAndGlyphs">84.95</text>
<text x="1698.2" y="204.0" textLength="22.8" lengthAdjust="spacingAndGlyphs">84.55</text>
<text x="1698.2" y="238.0" textLength="22.8" lengthAdjust="spacingAndGlyphs">84.15</text>
<text x="1698.2" y="273.0" textLength="22.8" lengthAdjust="spacingAndGlyphs">83.75</text>
<text x="1698.2" y="307.0" textLength="22.8" lengthAdjust="spacingAndGlyphs">83.35</text>
<text x="1698.2" y="341.0" textLength="22.8" lengthAdjust="spacingAndGlyphs">82.95</text>
<text x="1698.2" y="375.0" textLength="22.8" lengthAdjust="spacingAndGlyphs">82.55</text>
<text x="1698.2" y="410.0" textLength="22.8" lengthAdjust="spacingAndGlyphs">82.15</text>
<text x="1698.2" y="444.0" textLength="22.8" lengthAdjust="spacingAndGlyphs">81.75</text>
<text x="1698.2" y="478.0" textLength="22.8" lengthAdjust="spacingAndGlyphs">81.35</text>
<text x="1698.2" y="513.0" textLength="22.8" lengthAdjust="spacingAndGlyphs">80.95</text>
<text x="1698.2" y="547.0" textLength="22.8" lengthAdjust="spacingAndGlyphs">80.55</text>
<text x="1698.2" y="581.0" textLength="22.8" lengthAdjust="spacingAndGlyphs">80.15</text>
<text x="1698.2" y="615.0" textLength="22.8" lengthAdjust="spacingAndGlyphs">79.75</text>
<text x="1698.2" y="650.0" textLength="22.8" lengthAdjust="spacingAndGlyphs">79.35</text>
<text x="1698.2" y="684.0" textLength="22.8" lengthAdjust="spacingAndGlyphs">78.95</text>
<text x="1698.2" y="718.0" textLength="22.8" lengthAdjust="spacingAndGlyphs">78.55</text>
<text x="1698.2" y="753.0" textLength="22.8" lengthAdjust="spacingAndGlyphs">78.15</text>
<text x="1698.2" y="787.0" textLength="22.8" lengthAdjust="spacingAndGlyphs">77.75</text>
<text x="1698.2" y="821.0" textLength="22.8" lengthAdjust="spacingAndGlyphs">77.35</text>
<text x="1698.2" y="855.0" textLength="22.8" lengthAdjust="spacingAndGlyphs">76.95</text>
<text x="1698.2" y="890.0" textLength="22.8" lengthAdjust="spacingAndGlyphs">76.55</text>
<text x="1698.2" y="924.0" textLength="22.8" lengthAdjust="spacingAndGlyphs">76.15</text>
<text x="1698.2" y="958.0" textLength="22.8" lengthAdjust="spacingAndGlyphs">75.75</text>
<path d="M1693 64.5h3M1693 98.5h3M1693 133.5h3M1693 167.5h3M1693 201.5h3M1693 235.5h3M1693 270.5h3M1693 304.5h3M1693 338.5h3M1693 372.5h3M1693 407.5h3M1693 441.5h3M1693 475.5h3M1693 510.5h3M1693 544.5h3M1693 578.5h3M1693 612.5h3M1693 647.5h3M1693 681.5h3M1693 715.5h3M1693 750.5h3M1693 784.5h3M1693 818.5h3M1693 852.5h3M1693 887.5h3M1693 921.5h3M1693 955.5h3" stroke="#000" stroke-width="1" shape-rendering="crispEdges"/>
<rect x="1693" y="201" width="1" height="11" fill="#fff" shape-rendering="crispEdges"/>
<rect x="1694" y="201" width="31" height="11" fill="#008484" shape-rendering="crispEdges"/>
<text x="1698.2" y="210" fill="#fff" stroke="#fff" textLength="22.8" lengthAdjust="spacingAndGlyphs">84.48</text>
<rect x="1693" y="225" width="1" height="11" fill="#fff" shape-rendering="crispEdges"/>
<rect x="1694" y="225" width="31" height="11" fill="#000000" shape-rendering="crispEdges"/>
<text x="1698.2" y="234" fill="#fff" stroke="#fff" textLength="22.8" lengthAdjust="spacingAndGlyphs">84.20</text>
<rect x="1693" y="341" width="1" height="11" fill="#fff" shape-rendering="crispEdges"/>
<rect x="1694" y="341" width="31" height="11" fill="#b22222" shape-rendering="crispEdges"/>
<text x="1698.2" y="350" fill="#fff" stroke="#fff" textLength="22.8" lengthAdjust="spacingAndGlyphs">82.85</text>
<text x="58.3" y="973" textLength="51.7" lengthAdjust="spacingAndGlyphs">12 Aug 2014</text>
<text x="122.3" y="973" textLength="55.0" lengthAdjust="spacingAndGlyphs">14 Aug 16:00</text>
<text x="186.3" y="973" textLength="55.0" lengthAdjust="spacingAndGlyphs">15 Aug 17:00</text>
<text x="250.3" y="973" textLength="55.0" lengthAdjust="spacingAndGlyphs">18 Aug 18:00</text>
<text x="314.3" y="973" textLength="55.0" lengthAdjust="spacingAndGlyphs">19 Aug 19:00</text>
<text x="378.3" y="973" textLength="55.0" lengthAdjust="spacingAndGlyphs">20 Aug 20:00</text>
<text x="442.3" y="973" textLength="55.0" lengthAdjust="spacingAndGlyphs">21 Aug 21:00</text>
<text x="506.3" y="973" textLength="55.0" lengthAdjust="spacingAndGlyphs">22 Aug 22:00</text>
<text x="570.3" y="973" textLength="55.0" lengthAdjust="spacingAndGlyphs">26 Aug 16:00</text>
<text x="634.3" y="973" textLength="55.0" lengthAdjust="spacingAndGlyphs">27 Aug 17:00</text>
<text x="698.3" y="973" textLength="55.0" lengthAdjust="spacingAndGlyphs">28 Aug 18:00</text>
<text x="762.3" y="973" textLength="55.0" lengthAdjust="spacingAndGlyphs">29 Aug 19:00</text>
<text x="826.3" y="973" textLength="49.8" lengthAdjust="spacingAndGlyphs">2 Sep 20:00</text>
<text x="890.3" y="973" textLength="49.8" lengthAdjust="spacingAndGlyphs">3 Sep 21:00</text>
<text x="954.3" y="973" textLength="49.8" lengthAdjust="spacingAndGlyphs">4 Sep 22:00</text>
<text x="1018.3" y="973" textLength="49.8" lengthAdjust="spacingAndGlyphs">8 Sep 16:00</text>
<text x="1082.3" y="973" textLength="49.8" lengthAdjust="spacingAndGlyphs">9 Sep 17:00</text>
<text x="1146.3" y="973" textLength="55.0" lengthAdjust="spacingAndGlyphs">10 Sep 18:00</text>
<text x="1210.3" y="973" textLength="55.0" lengthAdjust="spacingAndGlyphs">11 Sep 19:00</text>
<text x="1274.3" y="973" textLength="55.0" lengthAdjust="spacingAndGlyphs">12 Sep 20:00</text>
<text x="1338.3" y="973" textLength="55.0" lengthAdjust="spacingAndGlyphs">15 Sep 21:00</text>
<text x="1402.3" y="973" textLength="55.0" lengthAdjust="spacingAndGlyphs">16 Sep 22:00</text>
<text x="1466.3" y="973" textLength="55.0" lengthAdjust="spacingAndGlyphs">18 Sep 16:00</text>
<path d="M59.5 961v3M123.5 961v3M187.5 961v3M251.5 961v3M315.5 961v3M379.5 961v3M443.5 961v3M507.5 961v3M571.5 961v3M635.5 961v3M699.5 961v3M763.5 961v3M827.5 961v3M891.5 961v3M955.5 961v3M1019.5 961v3M1083.5 961v3M1147.5 961v3M1211.5 961v3M1275.5 961v3M1339.5 961v3M1403.5 961v3M1467.5 961v3" stroke="#000" stroke-width="1" shape-rendering="crispEdges"/>
<text x="74.8" y="70" textLength="28.3" lengthAdjust="spacingAndGlyphs">PG,H1</text>
<text x="108.1" y="70" textLength="100.9" lengthAdjust="spacingAndGlyphs">84.12 84.24 84.11 84.20</text>
<text x="63.9" y="95" textLength="59.3" lengthAdjust="spacingAndGlyphs">Параметр 30,</text>
<text x="129.8" y="95" textLength="128.1" lengthAdjust="spacingAndGlyphs">Стоимость пипса на минлоте</text>
<text x="265.0" y="95" textLength="26.3" lengthAdjust="spacingAndGlyphs">$1.25,</text>
<text x="300.7" y="95" textLength="56.9" lengthAdjust="spacingAndGlyphs">Минлот 0.01,</text>
<text x="364.6" y="95" textLength="69.0" lengthAdjust="spacingAndGlyphs">Point = 0,01000,</text>
<text x="440.7" y="95" textLength="92.1" lengthAdjust="spacingAndGlyphs">1 Контракт/Lot = 100</text>
<text x="63.9" y="119" textLength="189.3" lengthAdjust="spacingAndGlyphs">Торговый лимит $1000, Риск на сделку 3%,</text>
<text x="260.6" y="119" textLength="53.4" lengthAdjust="spacingAndGlyphs">в сумме 30$</text>
<text x="63.9" y="131" textLength="175.7" lengthAdjust="spacingAndGlyphs">Минимальный торговый лимит $ 7607.5,</text>
<text x="249.7" y="131" textLength="27.7" lengthAdjust="spacingAndGlyphs">Спред</text>
<text x="282.7" y="131" textLength="12.3" lengthAdjust="spacingAndGlyphs">0.3</text>
<text x="63.9" y="155" textLength="97.9" lengthAdjust="spacingAndGlyphs">Стоп для Current Long</text>
<text x="165.8" y="155" textLength="23.6" lengthAdjust="spacingAndGlyphs">82.85</text>
<text x="195.0" y="155" textLength="16.1" lengthAdjust="spacingAndGlyphs">или</text>
<text x="216.4" y="155" textLength="44.1" lengthAdjust="spacingAndGlyphs">13.8 pips -</text>
<text x="265.4" y="155" textLength="137.7" lengthAdjust="spacingAndGlyphs">Позиция 0000 базовой валюты,</text>
<text x="407.7" y="155" textLength="41.5" lengthAdjust="spacingAndGlyphs">в лотах 0</text>
<text x="63.9" y="167" textLength="125.7" lengthAdjust="spacingAndGlyphs">Стоп для Current Short 84.48</text>
<text x="195.0" y="167" textLength="16.1" lengthAdjust="spacingAndGlyphs">или</text>
<text x="216.4" y="167" textLength="38.8" lengthAdjust="spacingAndGlyphs">2.8 pips -</text>
<text x="260.6" y="167" textLength="137.7" lengthAdjust="spacingAndGlyphs">Позиция 0000 базовой валюты,</text>
<text x="403.0" y="167" textLength="41.1" lengthAdjust="spacingAndGlyphs">в лотах 0</text>
<text x="63.9" y="191" textLength="153.5" lengthAdjust="spacingAndGlyphs">Волатильность - ATR(120) = 3 pips,</text>
<text x="226.0" y="191" textLength="146.7" lengthAdjust="spacingAndGlyphs">Минимальная ширина канала = 21</text>
<text x="385.7" y="191" textLength="150.5" lengthAdjust="spacingAndGlyphs">Максимальная ширина канала = 60</text>
<path d="M62.5 64.5h7l-3.5 4z" fill="#000"/>
</g>
</svg>
</body></html>
